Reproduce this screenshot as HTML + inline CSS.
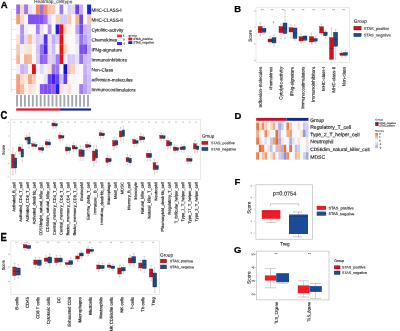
<!DOCTYPE html>
<html><head><meta charset="utf-8"><style>
html,body{margin:0;padding:0;background:#fff;overflow:hidden;}
svg{display:block;will-change:transform;filter:blur(0.3px);}
text{font-family:"Liberation Sans",sans-serif;}
</style></head><body>
<svg width="400" height="331" viewBox="0 0 400 331">
<rect x="0" y="0" width="400" height="331" fill="#ffffff"/>
<text transform="translate(0.76,8.0) scale(1,1.04)" x="0" y="0" font-size="9.5" font-weight="bold" fill="#000" stroke="#000" stroke-width="0.25">A</text>
<text x="34.00" y="3.00" font-size="4.800" fill="#555" stroke="#555" stroke-width="0.15" transform="rotate(0.25 34.00 3.00)" >Heatmap_celltype</text>
<rect x="16.20" y="4.50" width="3.99" height="10.00" fill="#9a6ae8" />
<rect x="20.14" y="4.50" width="3.99" height="10.00" fill="#fbd7c8" />
<rect x="24.08" y="4.50" width="3.99" height="10.00" fill="#a07ae8" />
<rect x="28.02" y="4.50" width="3.99" height="10.00" fill="#e8e0f8" />
<rect x="31.96" y="4.50" width="3.99" height="10.00" fill="#f5f0fa" />
<rect x="35.90" y="4.50" width="3.99" height="10.00" fill="#f58a5a" />
<rect x="39.84" y="4.50" width="3.99" height="10.00" fill="#9a70f0" />
<rect x="43.78" y="4.50" width="3.99" height="10.00" fill="#f59060" />
<rect x="47.72" y="4.50" width="3.99" height="10.00" fill="#fac0b0" />
<rect x="51.66" y="4.50" width="3.99" height="10.00" fill="#f8c8b0" />
<rect x="55.60" y="4.50" width="3.99" height="10.00" fill="#ffffff" />
<rect x="59.54" y="4.50" width="3.99" height="10.00" fill="#9a7ae8" />
<rect x="63.48" y="4.50" width="3.99" height="10.00" fill="#fbf8fc" />
<rect x="67.42" y="4.50" width="3.99" height="10.00" fill="#d8d0f8" />
<rect x="71.36" y="4.50" width="3.99" height="10.00" fill="#e0d8f8" />
<rect x="75.30" y="4.50" width="3.99" height="10.00" fill="#6a40e8" />
<rect x="79.24" y="4.50" width="3.99" height="10.00" fill="#c8b0f8" />
<rect x="83.18" y="4.50" width="3.99" height="10.00" fill="#fbf8fc" />
<rect x="87.12" y="4.50" width="3.99" height="10.00" fill="#2020e0" />
<rect x="16.20" y="14.45" width="3.99" height="10.00" fill="#f0a070" />
<rect x="20.14" y="14.45" width="3.99" height="10.00" fill="#fbd7c8" />
<rect x="24.08" y="14.45" width="3.99" height="10.00" fill="#f8f4f8" />
<rect x="28.02" y="14.45" width="3.99" height="10.00" fill="#8050f0" />
<rect x="31.96" y="14.45" width="3.99" height="10.00" fill="#8050f0" />
<rect x="35.90" y="14.45" width="3.99" height="10.00" fill="#8050f0" />
<rect x="39.84" y="14.45" width="3.99" height="10.00" fill="#8050f0" />
<rect x="43.78" y="14.45" width="3.99" height="10.00" fill="#a070f0" />
<rect x="47.72" y="14.45" width="3.99" height="10.00" fill="#e0d8f8" />
<rect x="51.66" y="14.45" width="3.99" height="10.00" fill="#fbf8fc" />
<rect x="55.60" y="14.45" width="3.99" height="10.00" fill="#f8d0b8" />
<rect x="59.54" y="14.45" width="3.99" height="10.00" fill="#d8c8f8" />
<rect x="63.48" y="14.45" width="3.99" height="10.00" fill="#d8c8f8" />
<rect x="67.42" y="14.45" width="3.99" height="10.00" fill="#f8c8b0" />
<rect x="71.36" y="14.45" width="3.99" height="10.00" fill="#fbf8fc" />
<rect x="75.30" y="14.45" width="3.99" height="10.00" fill="#f4b890" />
<rect x="79.24" y="14.45" width="3.99" height="10.00" fill="#7048e8" />
<rect x="83.18" y="14.45" width="3.99" height="10.00" fill="#fbf8fc" />
<rect x="87.12" y="14.45" width="3.99" height="10.00" fill="#f8c8b0" />
<rect x="16.20" y="24.40" width="3.99" height="10.00" fill="#fbf8fc" />
<rect x="20.14" y="24.40" width="3.99" height="10.00" fill="#b090f0" />
<rect x="24.08" y="24.40" width="3.99" height="10.00" fill="#f0ecfa" />
<rect x="28.02" y="24.40" width="3.99" height="10.00" fill="#fbf8fc" />
<rect x="31.96" y="24.40" width="3.99" height="10.00" fill="#fbf8fc" />
<rect x="35.90" y="24.40" width="3.99" height="10.00" fill="#a080f0" />
<rect x="39.84" y="24.40" width="3.99" height="10.00" fill="#e8e0f8" />
<rect x="43.78" y="24.40" width="3.99" height="10.00" fill="#fbf8fc" />
<rect x="47.72" y="24.40" width="3.99" height="10.00" fill="#b090f0" />
<rect x="51.66" y="24.40" width="3.99" height="10.00" fill="#fbf8fc" />
<rect x="55.60" y="24.40" width="3.99" height="10.00" fill="#2020d8" />
<rect x="59.54" y="24.40" width="3.99" height="10.00" fill="#f01010" />
<rect x="63.48" y="24.40" width="3.99" height="10.00" fill="#f8d8c8" />
<rect x="67.42" y="24.40" width="3.99" height="10.00" fill="#fcf0ec" />
<rect x="71.36" y="24.40" width="3.99" height="10.00" fill="#fbf8fc" />
<rect x="75.30" y="24.40" width="3.99" height="10.00" fill="#c0a0f8" />
<rect x="79.24" y="24.40" width="3.99" height="10.00" fill="#7050e8" />
<rect x="83.18" y="24.40" width="3.99" height="10.00" fill="#c8b8f8" />
<rect x="87.12" y="24.40" width="3.99" height="10.00" fill="#d0c0f8" />
<rect x="16.20" y="34.35" width="3.99" height="10.00" fill="#fce0d0" />
<rect x="20.14" y="34.35" width="3.99" height="10.00" fill="#b090f0" />
<rect x="24.08" y="34.35" width="3.99" height="10.00" fill="#e8d8f8" />
<rect x="28.02" y="34.35" width="3.99" height="10.00" fill="#f8c0a0" />
<rect x="31.96" y="34.35" width="3.99" height="10.00" fill="#f0e8fa" />
<rect x="35.90" y="34.35" width="3.99" height="10.00" fill="#d8c8f8" />
<rect x="39.84" y="34.35" width="3.99" height="10.00" fill="#e0d0f8" />
<rect x="43.78" y="34.35" width="3.99" height="10.00" fill="#5030e8" />
<rect x="47.72" y="34.35" width="3.99" height="10.00" fill="#ece4fa" />
<rect x="51.66" y="34.35" width="3.99" height="10.00" fill="#c8a8f8" />
<rect x="55.60" y="34.35" width="3.99" height="10.00" fill="#d8c8f8" />
<rect x="59.54" y="34.35" width="3.99" height="10.00" fill="#f01010" />
<rect x="63.48" y="34.35" width="3.99" height="10.00" fill="#fcf4f0" />
<rect x="67.42" y="34.35" width="3.99" height="10.00" fill="#fbf8fc" />
<rect x="71.36" y="34.35" width="3.99" height="10.00" fill="#fbf8fc" />
<rect x="75.30" y="34.35" width="3.99" height="10.00" fill="#e0d8f8" />
<rect x="79.24" y="34.35" width="3.99" height="10.00" fill="#9878f0" />
<rect x="83.18" y="34.35" width="3.99" height="10.00" fill="#b8a0f8" />
<rect x="87.12" y="34.35" width="3.99" height="10.00" fill="#d0c0f8" />
<rect x="16.20" y="44.30" width="3.99" height="10.00" fill="#f8c8b0" />
<rect x="20.14" y="44.30" width="3.99" height="10.00" fill="#f0f0fa" />
<rect x="24.08" y="44.30" width="3.99" height="10.00" fill="#fce8d8" />
<rect x="28.02" y="44.30" width="3.99" height="10.00" fill="#fce0d0" />
<rect x="31.96" y="44.30" width="3.99" height="10.00" fill="#fbf8fc" />
<rect x="35.90" y="44.30" width="3.99" height="10.00" fill="#d0c0f8" />
<rect x="39.84" y="44.30" width="3.99" height="10.00" fill="#9870f0" />
<rect x="43.78" y="44.30" width="3.99" height="10.00" fill="#4828e8" />
<rect x="47.72" y="44.30" width="3.99" height="10.00" fill="#e8e0fa" />
<rect x="51.66" y="44.30" width="3.99" height="10.00" fill="#d0b8f8" />
<rect x="55.60" y="44.30" width="3.99" height="10.00" fill="#fbf8fc" />
<rect x="59.54" y="44.30" width="3.99" height="10.00" fill="#f01010" />
<rect x="63.48" y="44.30" width="3.99" height="10.00" fill="#f8d8c0" />
<rect x="67.42" y="44.30" width="3.99" height="10.00" fill="#fbf8fc" />
<rect x="71.36" y="44.30" width="3.99" height="10.00" fill="#fbf8fc" />
<rect x="75.30" y="44.30" width="3.99" height="10.00" fill="#f0ecfa" />
<rect x="79.24" y="44.30" width="3.99" height="10.00" fill="#8050f0" />
<rect x="83.18" y="44.30" width="3.99" height="10.00" fill="#7850f0" />
<rect x="87.12" y="44.30" width="3.99" height="10.00" fill="#c8b0f8" />
<rect x="16.20" y="54.25" width="3.99" height="10.00" fill="#f8b898" />
<rect x="20.14" y="54.25" width="3.99" height="10.00" fill="#fbf8fc" />
<rect x="24.08" y="54.25" width="3.99" height="10.00" fill="#f8b090" />
<rect x="28.02" y="54.25" width="3.99" height="10.00" fill="#f8b898" />
<rect x="31.96" y="54.25" width="3.99" height="10.00" fill="#fbf8fc" />
<rect x="35.90" y="54.25" width="3.99" height="10.00" fill="#d8c8f8" />
<rect x="39.84" y="54.25" width="3.99" height="10.00" fill="#9060f0" />
<rect x="43.78" y="54.25" width="3.99" height="10.00" fill="#9868f0" />
<rect x="47.72" y="54.25" width="3.99" height="10.00" fill="#e0d0f8" />
<rect x="51.66" y="54.25" width="3.99" height="10.00" fill="#d8c8f8" />
<rect x="55.60" y="54.25" width="3.99" height="10.00" fill="#a080f0" />
<rect x="59.54" y="54.25" width="3.99" height="10.00" fill="#f01010" />
<rect x="63.48" y="54.25" width="3.99" height="10.00" fill="#fbf8fc" />
<rect x="67.42" y="54.25" width="3.99" height="10.00" fill="#d8c8f8" />
<rect x="71.36" y="54.25" width="3.99" height="10.00" fill="#d8c8f8" />
<rect x="75.30" y="54.25" width="3.99" height="10.00" fill="#e8e0f8" />
<rect x="79.24" y="54.25" width="3.99" height="10.00" fill="#9870f0" />
<rect x="83.18" y="54.25" width="3.99" height="10.00" fill="#c8b8f8" />
<rect x="87.12" y="54.25" width="3.99" height="10.00" fill="#d0c0f8" />
<rect x="16.20" y="64.20" width="3.99" height="10.00" fill="#f0eefa" />
<rect x="20.14" y="64.20" width="3.99" height="10.00" fill="#c8b0f8" />
<rect x="24.08" y="64.20" width="3.99" height="10.00" fill="#d0c0f8" />
<rect x="28.02" y="64.20" width="3.99" height="10.00" fill="#f8f4fa" />
<rect x="31.96" y="64.20" width="3.99" height="10.00" fill="#e81010" />
<rect x="35.90" y="64.20" width="3.99" height="10.00" fill="#fbf8fc" />
<rect x="39.84" y="64.20" width="3.99" height="10.00" fill="#e0d8f8" />
<rect x="43.78" y="64.20" width="3.99" height="10.00" fill="#f4f0fa" />
<rect x="47.72" y="64.20" width="3.99" height="10.00" fill="#fce0d0" />
<rect x="51.66" y="64.20" width="3.99" height="10.00" fill="#9870f0" />
<rect x="55.60" y="64.20" width="3.99" height="10.00" fill="#9a78f0" />
<rect x="59.54" y="64.20" width="3.99" height="10.00" fill="#fbf8fc" />
<rect x="63.48" y="64.20" width="3.99" height="10.00" fill="#1010d8" />
<rect x="67.42" y="64.20" width="3.99" height="10.00" fill="#f8c0a0" />
<rect x="71.36" y="64.20" width="3.99" height="10.00" fill="#f8d0c0" />
<rect x="75.30" y="64.20" width="3.99" height="10.00" fill="#f4f0fa" />
<rect x="79.24" y="64.20" width="3.99" height="10.00" fill="#fbf8fc" />
<rect x="83.18" y="64.20" width="3.99" height="10.00" fill="#c8b0f8" />
<rect x="87.12" y="64.20" width="3.99" height="10.00" fill="#d8c8f8" />
<rect x="16.20" y="74.15" width="3.99" height="10.00" fill="#f4a080" />
<rect x="20.14" y="74.15" width="3.99" height="10.00" fill="#fcd8c8" />
<rect x="24.08" y="74.15" width="3.99" height="10.00" fill="#fce8e0" />
<rect x="28.02" y="74.15" width="3.99" height="10.00" fill="#f4a888" />
<rect x="31.96" y="74.15" width="3.99" height="10.00" fill="#f8d0b8" />
<rect x="35.90" y="74.15" width="3.99" height="10.00" fill="#fbf8fc" />
<rect x="39.84" y="74.15" width="3.99" height="10.00" fill="#fbf8fc" />
<rect x="43.78" y="74.15" width="3.99" height="10.00" fill="#e8e0f8" />
<rect x="47.72" y="74.15" width="3.99" height="10.00" fill="#6840f0" />
<rect x="51.66" y="74.15" width="3.99" height="10.00" fill="#4020e8" />
<rect x="55.60" y="74.15" width="3.99" height="10.00" fill="#6848f0" />
<rect x="59.54" y="74.15" width="3.99" height="10.00" fill="#d0c0f8" />
<rect x="63.48" y="74.15" width="3.99" height="10.00" fill="#6040e8" />
<rect x="67.42" y="74.15" width="3.99" height="10.00" fill="#fbf8fc" />
<rect x="71.36" y="74.15" width="3.99" height="10.00" fill="#fcf4f0" />
<rect x="75.30" y="74.15" width="3.99" height="10.00" fill="#fbf8fc" />
<rect x="79.24" y="74.15" width="3.99" height="10.00" fill="#fbf8fc" />
<rect x="83.18" y="74.15" width="3.99" height="10.00" fill="#c0a8f8" />
<rect x="87.12" y="74.15" width="3.99" height="10.00" fill="#d0c0f8" />
<rect x="16.20" y="84.10" width="3.99" height="10.00" fill="#f49878" />
<rect x="20.14" y="84.10" width="3.99" height="10.00" fill="#f8b8a0" />
<rect x="24.08" y="84.10" width="3.99" height="10.00" fill="#fcf0e8" />
<rect x="28.02" y="84.10" width="3.99" height="10.00" fill="#fce0d0" />
<rect x="31.96" y="84.10" width="3.99" height="10.00" fill="#fce8e0" />
<rect x="35.90" y="84.10" width="3.99" height="10.00" fill="#fbf8fc" />
<rect x="39.84" y="84.10" width="3.99" height="10.00" fill="#8858f0" />
<rect x="43.78" y="84.10" width="3.99" height="10.00" fill="#8050f0" />
<rect x="47.72" y="84.10" width="3.99" height="10.00" fill="#8050f0" />
<rect x="51.66" y="84.10" width="3.99" height="10.00" fill="#9060f0" />
<rect x="55.60" y="84.10" width="3.99" height="10.00" fill="#2020e0" />
<rect x="59.54" y="84.10" width="3.99" height="10.00" fill="#fce0d0" />
<rect x="63.48" y="84.10" width="3.99" height="10.00" fill="#f4f0fa" />
<rect x="67.42" y="84.10" width="3.99" height="10.00" fill="#fce0d0" />
<rect x="71.36" y="84.10" width="3.99" height="10.00" fill="#fbf8fc" />
<rect x="75.30" y="84.10" width="3.99" height="10.00" fill="#fbf8fc" />
<rect x="79.24" y="84.10" width="3.99" height="10.00" fill="#a080f0" />
<rect x="83.18" y="84.10" width="3.99" height="10.00" fill="#b8a0f8" />
<rect x="87.12" y="84.10" width="3.99" height="10.00" fill="#d0c0f8" />
<line x1="11.30" y1="9.50" x2="11.30" y2="92.00" stroke="#c4c4c4" stroke-width="0.5" />
<line x1="11.30" y1="9.50" x2="16.20" y2="9.50" stroke="#d0d0d0" stroke-width="0.4" />
<line x1="11.30" y1="19.50" x2="16.20" y2="19.50" stroke="#d0d0d0" stroke-width="0.4" />
<line x1="11.30" y1="29.50" x2="16.20" y2="29.50" stroke="#d0d0d0" stroke-width="0.4" />
<line x1="11.30" y1="39.50" x2="16.20" y2="39.50" stroke="#d0d0d0" stroke-width="0.4" />
<line x1="11.30" y1="49.50" x2="16.20" y2="49.50" stroke="#d0d0d0" stroke-width="0.4" />
<line x1="11.30" y1="59.50" x2="16.20" y2="59.50" stroke="#d0d0d0" stroke-width="0.4" />
<line x1="11.30" y1="69.50" x2="16.20" y2="69.50" stroke="#d0d0d0" stroke-width="0.4" />
<line x1="11.30" y1="79.50" x2="16.20" y2="79.50" stroke="#d0d0d0" stroke-width="0.4" />
<line x1="11.30" y1="89.50" x2="16.20" y2="89.50" stroke="#d0d0d0" stroke-width="0.4" />
<text x="91.40" y="11.68" font-size="4.650" fill="#2a2a2a" stroke="#2a2a2a" stroke-width="0.15" transform="rotate(0.25 91.40 11.68)" >MHC-CLASS-I</text>
<text x="91.40" y="21.62" font-size="4.650" fill="#2a2a2a" stroke="#2a2a2a" stroke-width="0.15" transform="rotate(0.25 91.40 21.62)" >MHC-CLASS-II</text>
<text x="91.40" y="31.57" font-size="4.650" fill="#2a2a2a" stroke="#2a2a2a" stroke-width="0.15" transform="rotate(0.25 91.40 31.57)" >Cytolitic-activity</text>
<text x="91.40" y="41.52" font-size="4.650" fill="#2a2a2a" stroke="#2a2a2a" stroke-width="0.15" transform="rotate(0.25 91.40 41.52)" >Chemokines</text>
<text x="91.40" y="51.48" font-size="4.650" fill="#2a2a2a" stroke="#2a2a2a" stroke-width="0.15" transform="rotate(0.25 91.40 51.48)" >IFNg-signature</text>
<text x="91.40" y="61.42" font-size="4.650" fill="#2a2a2a" stroke="#2a2a2a" stroke-width="0.15" transform="rotate(0.25 91.40 61.42)" >Immunoinhibitors</text>
<text x="91.40" y="71.38" font-size="4.650" fill="#2a2a2a" stroke="#2a2a2a" stroke-width="0.15" transform="rotate(0.25 91.40 71.38)" >Non-Class</text>
<text x="91.40" y="81.33" font-size="4.650" fill="#2a2a2a" stroke="#2a2a2a" stroke-width="0.15" transform="rotate(0.25 91.40 81.33)" >adhesion-molecules</text>
<text x="91.40" y="91.27" font-size="4.650" fill="#2a2a2a" stroke="#2a2a2a" stroke-width="0.15" transform="rotate(0.25 91.40 91.27)" >Immunocostimulators</text>
<rect x="16.10" y="95.00" width="1.90" height="11.60" fill="#a3a7b0" />
<rect x="20.04" y="95.00" width="1.90" height="11.60" fill="#a3a7b0" />
<rect x="23.98" y="95.00" width="1.90" height="11.60" fill="#a3a7b0" />
<rect x="27.92" y="95.00" width="1.90" height="11.60" fill="#a3a7b0" />
<rect x="31.86" y="95.00" width="1.90" height="11.60" fill="#a3a7b0" />
<rect x="35.80" y="95.00" width="1.90" height="11.60" fill="#a3a7b0" />
<rect x="39.74" y="95.00" width="1.90" height="11.60" fill="#a3a7b0" />
<rect x="43.68" y="95.00" width="1.90" height="11.60" fill="#a3a7b0" />
<rect x="47.62" y="95.00" width="1.90" height="11.60" fill="#a3a7b0" />
<rect x="51.56" y="95.00" width="1.90" height="11.60" fill="#a3a7b0" />
<rect x="55.50" y="95.00" width="1.90" height="11.60" fill="#a3a7b0" />
<rect x="59.44" y="95.00" width="1.90" height="11.60" fill="#a3a7b0" />
<rect x="63.38" y="95.00" width="1.90" height="11.60" fill="#a3a7b0" />
<rect x="67.32" y="95.00" width="1.90" height="11.60" fill="#a3a7b0" />
<rect x="71.26" y="95.00" width="1.90" height="11.60" fill="#a3a7b0" />
<rect x="75.20" y="95.00" width="1.90" height="11.60" fill="#a3a7b0" />
<rect x="79.14" y="95.00" width="1.90" height="11.60" fill="#a3a7b0" />
<rect x="83.08" y="95.00" width="1.90" height="11.60" fill="#a3a7b0" />
<rect x="87.02" y="95.00" width="1.90" height="11.60" fill="#a3a7b0" />
<rect x="16.20" y="108.40" width="43.34" height="2.20" fill="#e8102a" />
<rect x="59.54" y="108.40" width="31.52" height="2.20" fill="#1a2a90" />
<rect x="117.00" y="34.60" width="5.00" height="2.80" fill="#f03030" />
<rect x="117.00" y="37.40" width="5.00" height="4.60" fill="#f4f0fa" />
<rect x="117.00" y="42.00" width="5.00" height="3.00" fill="#3030e8" />
<text x="123.00" y="36.80" font-size="2.800" fill="#444" stroke="#444" stroke-width="0.15" transform="rotate(0.25 123.00 36.80)" >1</text>
<text x="123.00" y="40.60" font-size="2.800" fill="#444" stroke="#444" stroke-width="0.15" transform="rotate(0.25 123.00 40.60)" >0</text>
<text x="122.60" y="44.60" font-size="2.800" fill="#444" stroke="#444" stroke-width="0.15" transform="rotate(0.25 122.60 44.60)" >-1</text>
<text x="128.50" y="36.60" font-size="3.000" fill="#222" transform="rotate(0.25 128.50 36.60)" font-weight="bold">group</text>
<rect x="128.30" y="37.60" width="4.00" height="2.80" fill="#e8102a" />
<rect x="128.30" y="41.20" width="4.00" height="2.80" fill="#1a2a90" />
<text x="133.20" y="39.90" font-size="3.000" fill="#444" stroke="#444" stroke-width="0.15" transform="rotate(0.25 133.20 39.90)" >STAS_positive</text>
<text x="133.20" y="43.50" font-size="3.000" fill="#444" stroke="#444" stroke-width="0.15" transform="rotate(0.25 133.20 43.50)" >STAS_negative</text>
<text transform="translate(234.2,11.9) scale(1,1.0)" x="0" y="0" font-size="9.5" font-weight="bold" fill="#000" stroke="#000" stroke-width="0.25">B</text>
<rect x="256" y="7.5" width="93.7" height="54.9" fill="none" stroke="#d4d4d4" stroke-width="0.5"/>
<rect x="254.20" y="10.30" width="1.40" height="1.20" fill="#c0c0c0" />
<rect x="254.20" y="26.60" width="1.40" height="1.20" fill="#c0c0c0" />
<rect x="254.20" y="43.40" width="1.40" height="1.20" fill="#c0c0c0" />
<rect x="254.20" y="59.90" width="1.40" height="1.20" fill="#c0c0c0" />
<text transform="translate(250.20,35.80) rotate(-89.8)" font-size="4.500" fill="#333" stroke="#333" stroke-width="0.15" text-anchor="middle" dominant-baseline="central">Score</text>
<line x1="260.25" y1="22.80" x2="260.25" y2="26.40" stroke="#a8a0a0" stroke-width="0.4" />
<line x1="260.25" y1="32.70" x2="260.25" y2="35.80" stroke="#a8a0a0" stroke-width="0.4" />
<line x1="259.23" y1="22.80" x2="261.27" y2="22.80" stroke="#a8a0a0" stroke-width="0.4" />
<line x1="259.23" y1="35.80" x2="261.27" y2="35.80" stroke="#a8a0a0" stroke-width="0.4" />
<rect x="258.20" y="26.40" width="4.10" height="6.30" fill="#d0141e" stroke="#7a1018" stroke-width="0.35"/>
<line x1="258.20" y1="29.55" x2="262.30" y2="29.55" stroke="#000000aa" stroke-width="0.35" />
<line x1="264.15" y1="26.00" x2="264.15" y2="28.20" stroke="#a0a4a8" stroke-width="0.4" />
<line x1="264.15" y1="32.20" x2="264.15" y2="34.00" stroke="#a0a4a8" stroke-width="0.4" />
<line x1="263.22" y1="26.00" x2="265.07" y2="26.00" stroke="#a0a4a8" stroke-width="0.4" />
<line x1="263.22" y1="34.00" x2="265.07" y2="34.00" stroke="#a0a4a8" stroke-width="0.4" />
<rect x="262.30" y="28.20" width="3.70" height="4.00" fill="#1d4f8c" stroke="#0e2c52" stroke-width="0.35"/>
<line x1="262.30" y1="30.20" x2="266.00" y2="30.20" stroke="#000000aa" stroke-width="0.35" />
<rect x="261.05" y="9.15" width="1.05" height="1.00" fill="#9a9a9a" />
<rect x="262.50" y="9.15" width="1.05" height="1.00" fill="#9a9a9a" />
<line x1="270.00" y1="36.00" x2="270.00" y2="39.00" stroke="#a8a0a0" stroke-width="0.4" />
<line x1="270.00" y1="42.00" x2="270.00" y2="44.00" stroke="#a8a0a0" stroke-width="0.4" />
<line x1="269.00" y1="36.00" x2="271.00" y2="36.00" stroke="#a8a0a0" stroke-width="0.4" />
<line x1="269.00" y1="44.00" x2="271.00" y2="44.00" stroke="#a8a0a0" stroke-width="0.4" />
<rect x="268.00" y="39.00" width="4.00" height="3.00" fill="#d0141e" stroke="#7a1018" stroke-width="0.35"/>
<line x1="268.00" y1="40.50" x2="272.00" y2="40.50" stroke="#000000aa" stroke-width="0.35" />
<line x1="274.00" y1="35.00" x2="274.00" y2="37.60" stroke="#a0a4a8" stroke-width="0.4" />
<line x1="274.00" y1="43.00" x2="274.00" y2="46.00" stroke="#a0a4a8" stroke-width="0.4" />
<line x1="273.00" y1="35.00" x2="275.00" y2="35.00" stroke="#a0a4a8" stroke-width="0.4" />
<line x1="273.00" y1="46.00" x2="275.00" y2="46.00" stroke="#a0a4a8" stroke-width="0.4" />
<rect x="272.00" y="37.60" width="4.00" height="5.40" fill="#1d4f8c" stroke="#0e2c52" stroke-width="0.35"/>
<line x1="272.00" y1="40.30" x2="276.00" y2="40.30" stroke="#000000aa" stroke-width="0.35" />
<rect x="270.75" y="9.15" width="1.05" height="1.00" fill="#9a9a9a" />
<rect x="272.20" y="9.15" width="1.05" height="1.00" fill="#9a9a9a" />
<line x1="281.00" y1="24.00" x2="281.00" y2="26.40" stroke="#a8a0a0" stroke-width="0.4" />
<line x1="281.00" y1="32.70" x2="281.00" y2="39.00" stroke="#a8a0a0" stroke-width="0.4" />
<line x1="280.00" y1="24.00" x2="282.00" y2="24.00" stroke="#a8a0a0" stroke-width="0.4" />
<line x1="280.00" y1="39.00" x2="282.00" y2="39.00" stroke="#a8a0a0" stroke-width="0.4" />
<rect x="279.00" y="26.40" width="4.00" height="6.30" fill="#d0141e" stroke="#7a1018" stroke-width="0.35"/>
<line x1="279.00" y1="29.55" x2="283.00" y2="29.55" stroke="#000000aa" stroke-width="0.35" />
<line x1="285.00" y1="10.40" x2="285.00" y2="23.00" stroke="#a0a4a8" stroke-width="0.4" />
<line x1="285.00" y1="33.60" x2="285.00" y2="39.00" stroke="#a0a4a8" stroke-width="0.4" />
<line x1="284.00" y1="10.40" x2="286.00" y2="10.40" stroke="#a0a4a8" stroke-width="0.4" />
<line x1="284.00" y1="39.00" x2="286.00" y2="39.00" stroke="#a0a4a8" stroke-width="0.4" />
<rect x="283.00" y="23.00" width="4.00" height="10.60" fill="#1d4f8c" stroke="#0e2c52" stroke-width="0.35"/>
<line x1="283.00" y1="28.30" x2="287.00" y2="28.30" stroke="#000000aa" stroke-width="0.35" />
<rect x="281.75" y="9.15" width="1.05" height="1.00" fill="#9a9a9a" />
<rect x="283.20" y="9.15" width="1.05" height="1.00" fill="#9a9a9a" />
<line x1="291.00" y1="25.00" x2="291.00" y2="27.60" stroke="#a8a0a0" stroke-width="0.4" />
<line x1="291.00" y1="32.00" x2="291.00" y2="38.00" stroke="#a8a0a0" stroke-width="0.4" />
<line x1="290.00" y1="25.00" x2="292.00" y2="25.00" stroke="#a8a0a0" stroke-width="0.4" />
<line x1="290.00" y1="38.00" x2="292.00" y2="38.00" stroke="#a8a0a0" stroke-width="0.4" />
<rect x="289.00" y="27.60" width="4.00" height="4.40" fill="#d0141e" stroke="#7a1018" stroke-width="0.35"/>
<line x1="289.00" y1="29.80" x2="293.00" y2="29.80" stroke="#000000aa" stroke-width="0.35" />
<line x1="295.00" y1="25.00" x2="295.00" y2="28.00" stroke="#a0a4a8" stroke-width="0.4" />
<line x1="295.00" y1="38.50" x2="295.00" y2="40.00" stroke="#a0a4a8" stroke-width="0.4" />
<line x1="294.00" y1="25.00" x2="296.00" y2="25.00" stroke="#a0a4a8" stroke-width="0.4" />
<line x1="294.00" y1="40.00" x2="296.00" y2="40.00" stroke="#a0a4a8" stroke-width="0.4" />
<rect x="293.00" y="28.00" width="4.00" height="10.50" fill="#1d4f8c" stroke="#0e2c52" stroke-width="0.35"/>
<line x1="293.00" y1="33.25" x2="297.00" y2="33.25" stroke="#000000aa" stroke-width="0.35" />
<rect x="291.75" y="9.15" width="1.05" height="1.00" fill="#9a9a9a" />
<rect x="293.20" y="9.15" width="1.05" height="1.00" fill="#9a9a9a" />
<line x1="301.00" y1="34.00" x2="301.00" y2="36.70" stroke="#a8a0a0" stroke-width="0.4" />
<line x1="301.00" y1="41.00" x2="301.00" y2="43.00" stroke="#a8a0a0" stroke-width="0.4" />
<line x1="300.00" y1="34.00" x2="302.00" y2="34.00" stroke="#a8a0a0" stroke-width="0.4" />
<line x1="300.00" y1="43.00" x2="302.00" y2="43.00" stroke="#a8a0a0" stroke-width="0.4" />
<rect x="299.00" y="36.70" width="4.00" height="4.30" fill="#d0141e" stroke="#7a1018" stroke-width="0.35"/>
<line x1="299.00" y1="38.85" x2="303.00" y2="38.85" stroke="#000000aa" stroke-width="0.35" />
<line x1="305.00" y1="35.00" x2="305.00" y2="36.00" stroke="#a0a4a8" stroke-width="0.4" />
<line x1="305.00" y1="40.30" x2="305.00" y2="42.00" stroke="#a0a4a8" stroke-width="0.4" />
<line x1="304.00" y1="35.00" x2="306.00" y2="35.00" stroke="#a0a4a8" stroke-width="0.4" />
<line x1="304.00" y1="42.00" x2="306.00" y2="42.00" stroke="#a0a4a8" stroke-width="0.4" />
<rect x="303.00" y="36.00" width="4.00" height="4.30" fill="#1d4f8c" stroke="#0e2c52" stroke-width="0.35"/>
<line x1="303.00" y1="38.15" x2="307.00" y2="38.15" stroke="#000000aa" stroke-width="0.35" />
<rect x="301.75" y="9.15" width="1.05" height="1.00" fill="#9a9a9a" />
<rect x="303.20" y="9.15" width="1.05" height="1.00" fill="#9a9a9a" />
<line x1="311.50" y1="33.00" x2="311.50" y2="36.70" stroke="#a8a0a0" stroke-width="0.4" />
<line x1="311.50" y1="42.00" x2="311.50" y2="44.00" stroke="#a8a0a0" stroke-width="0.4" />
<line x1="310.45" y1="33.00" x2="312.55" y2="33.00" stroke="#a8a0a0" stroke-width="0.4" />
<line x1="310.45" y1="44.00" x2="312.55" y2="44.00" stroke="#a8a0a0" stroke-width="0.4" />
<rect x="309.40" y="36.70" width="4.20" height="5.30" fill="#d0141e" stroke="#7a1018" stroke-width="0.35"/>
<line x1="309.40" y1="39.35" x2="313.60" y2="39.35" stroke="#000000aa" stroke-width="0.35" />
<line x1="315.40" y1="36.00" x2="315.40" y2="38.50" stroke="#a0a4a8" stroke-width="0.4" />
<line x1="315.40" y1="41.20" x2="315.40" y2="43.00" stroke="#a0a4a8" stroke-width="0.4" />
<line x1="314.50" y1="36.00" x2="316.30" y2="36.00" stroke="#a0a4a8" stroke-width="0.4" />
<line x1="314.50" y1="43.00" x2="316.30" y2="43.00" stroke="#a0a4a8" stroke-width="0.4" />
<rect x="313.60" y="38.50" width="3.60" height="2.70" fill="#1d4f8c" stroke="#0e2c52" stroke-width="0.35"/>
<line x1="313.60" y1="39.85" x2="317.20" y2="39.85" stroke="#000000aa" stroke-width="0.35" />
<rect x="312.35" y="9.15" width="1.05" height="1.00" fill="#9a9a9a" />
<rect x="313.80" y="9.15" width="1.05" height="1.00" fill="#9a9a9a" />
<line x1="321.55" y1="24.00" x2="321.55" y2="26.70" stroke="#a8a0a0" stroke-width="0.4" />
<line x1="321.55" y1="33.00" x2="321.55" y2="35.00" stroke="#a8a0a0" stroke-width="0.4" />
<line x1="320.58" y1="24.00" x2="322.52" y2="24.00" stroke="#a8a0a0" stroke-width="0.4" />
<line x1="320.58" y1="35.00" x2="322.52" y2="35.00" stroke="#a8a0a0" stroke-width="0.4" />
<rect x="319.60" y="26.70" width="3.90" height="6.30" fill="#d0141e" stroke="#7a1018" stroke-width="0.35"/>
<line x1="319.60" y1="29.85" x2="323.50" y2="29.85" stroke="#000000aa" stroke-width="0.35" />
<line x1="325.35" y1="30.00" x2="325.35" y2="32.00" stroke="#a0a4a8" stroke-width="0.4" />
<line x1="325.35" y1="35.80" x2="325.35" y2="38.00" stroke="#a0a4a8" stroke-width="0.4" />
<line x1="324.43" y1="30.00" x2="326.28" y2="30.00" stroke="#a0a4a8" stroke-width="0.4" />
<line x1="324.43" y1="38.00" x2="326.28" y2="38.00" stroke="#a0a4a8" stroke-width="0.4" />
<rect x="323.50" y="32.00" width="3.70" height="3.80" fill="#1d4f8c" stroke="#0e2c52" stroke-width="0.35"/>
<line x1="323.50" y1="33.90" x2="327.20" y2="33.90" stroke="#000000aa" stroke-width="0.35" />
<rect x="322.25" y="9.15" width="1.05" height="1.00" fill="#9a9a9a" />
<rect x="323.70" y="9.15" width="1.05" height="1.00" fill="#9a9a9a" />
<line x1="331.50" y1="28.20" x2="331.50" y2="37.60" stroke="#a8a0a0" stroke-width="0.4" />
<line x1="331.50" y1="59.30" x2="331.50" y2="59.30" stroke="#a8a0a0" stroke-width="0.4" />
<line x1="330.50" y1="28.20" x2="332.50" y2="28.20" stroke="#a8a0a0" stroke-width="0.4" />
<line x1="330.50" y1="59.30" x2="332.50" y2="59.30" stroke="#a8a0a0" stroke-width="0.4" />
<rect x="329.50" y="37.60" width="4.00" height="21.70" fill="#d0141e" stroke="#7a1018" stroke-width="0.35"/>
<line x1="329.50" y1="48.45" x2="333.50" y2="48.45" stroke="#000000aa" stroke-width="0.35" />
<line x1="335.60" y1="29.50" x2="335.60" y2="32.20" stroke="#a0a4a8" stroke-width="0.4" />
<line x1="335.60" y1="46.30" x2="335.60" y2="59.30" stroke="#a0a4a8" stroke-width="0.4" />
<line x1="334.55" y1="29.50" x2="336.65" y2="29.50" stroke="#a0a4a8" stroke-width="0.4" />
<line x1="334.55" y1="59.30" x2="336.65" y2="59.30" stroke="#a0a4a8" stroke-width="0.4" />
<rect x="333.50" y="32.20" width="4.20" height="14.10" fill="#1d4f8c" stroke="#0e2c52" stroke-width="0.35"/>
<line x1="333.50" y1="39.25" x2="337.70" y2="39.25" stroke="#000000aa" stroke-width="0.35" />
<rect x="332.25" y="9.15" width="1.05" height="1.00" fill="#9a9a9a" />
<rect x="333.70" y="9.15" width="1.05" height="1.00" fill="#9a9a9a" />
<line x1="341.70" y1="51.00" x2="341.70" y2="53.00" stroke="#a8a0a0" stroke-width="0.4" />
<line x1="341.70" y1="55.40" x2="341.70" y2="57.00" stroke="#a8a0a0" stroke-width="0.4" />
<line x1="340.80" y1="51.00" x2="342.60" y2="51.00" stroke="#a8a0a0" stroke-width="0.4" />
<line x1="340.80" y1="57.00" x2="342.60" y2="57.00" stroke="#a8a0a0" stroke-width="0.4" />
<rect x="339.90" y="53.00" width="3.60" height="2.40" fill="#d0141e" stroke="#7a1018" stroke-width="0.35"/>
<line x1="339.90" y1="54.20" x2="343.50" y2="54.20" stroke="#000000aa" stroke-width="0.35" />
<line x1="345.50" y1="50.00" x2="345.50" y2="52.50" stroke="#a0a4a8" stroke-width="0.4" />
<line x1="345.50" y1="55.40" x2="345.50" y2="57.00" stroke="#a0a4a8" stroke-width="0.4" />
<line x1="344.50" y1="50.00" x2="346.50" y2="50.00" stroke="#a0a4a8" stroke-width="0.4" />
<line x1="344.50" y1="57.00" x2="346.50" y2="57.00" stroke="#a0a4a8" stroke-width="0.4" />
<rect x="343.50" y="52.50" width="4.00" height="2.90" fill="#1d4f8c" stroke="#0e2c52" stroke-width="0.35"/>
<line x1="343.50" y1="53.95" x2="347.50" y2="53.95" stroke="#000000aa" stroke-width="0.35" />
<rect x="342.25" y="9.15" width="1.05" height="1.00" fill="#9a9a9a" />
<rect x="343.70" y="9.15" width="1.05" height="1.00" fill="#9a9a9a" />
<circle cx="273.5" cy="22.2" r="0.6" fill="#d04848"/>
<text transform="translate(260.50,66.80) rotate(-89.8)" font-size="4.576" fill="#2a2a2a" stroke="#2a2a2a" stroke-width="0.15" text-anchor="end" dominant-baseline="central">adhesion-molecules</text>
<text transform="translate(270.70,66.80) rotate(-89.8)" font-size="4.348" fill="#2a2a2a" stroke="#2a2a2a" stroke-width="0.15" text-anchor="end" dominant-baseline="central">chemokines</text>
<text transform="translate(281.00,66.80) rotate(-89.8)" font-size="4.590" fill="#2a2a2a" stroke="#2a2a2a" stroke-width="0.15" text-anchor="end" dominant-baseline="central">Cytolytic-activity</text>
<text transform="translate(292.00,66.80) rotate(-89.8)" font-size="4.490" fill="#2a2a2a" stroke="#2a2a2a" stroke-width="0.15" text-anchor="end" dominant-baseline="central">IFNg-signature</text>
<text transform="translate(303.00,66.80) rotate(-89.8)" font-size="4.420" fill="#2a2a2a" stroke="#2a2a2a" stroke-width="0.15" text-anchor="end" dominant-baseline="central">Immunocostimulators</text>
<text transform="translate(313.40,66.80) rotate(-89.8)" font-size="4.623" fill="#2a2a2a" stroke="#2a2a2a" stroke-width="0.15" text-anchor="end" dominant-baseline="central">Immunoinhibitors</text>
<text transform="translate(323.60,66.80) rotate(-89.8)" font-size="4.400" fill="#2a2a2a" stroke="#2a2a2a" stroke-width="0.15" text-anchor="end" dominant-baseline="central">MHC-class-I</text>
<text transform="translate(333.80,66.80) rotate(-89.8)" font-size="4.466" fill="#2a2a2a" stroke="#2a2a2a" stroke-width="0.15" text-anchor="end" dominant-baseline="central">MHC-class-II</text>
<text transform="translate(344.00,66.80) rotate(-89.8)" font-size="4.386" fill="#2a2a2a" stroke="#2a2a2a" stroke-width="0.15" text-anchor="end" dominant-baseline="central">Non-class</text>
<text x="353.75" y="22.80" font-size="4.700" fill="#3a3a3a" stroke="#3a3a3a" stroke-width="0.15" transform="rotate(0.25 353.75 22.80)" >Group</text>
<rect x="353.90" y="26.25" width="7.20" height="3.75" fill="#d0141e" stroke="#6a0e18" stroke-width="0.45"/>
<rect x="353.90" y="33.30" width="7.20" height="3.30" fill="#1d4f8c" stroke="#0c2848" stroke-width="0.45"/>
<text x="363.75" y="29.90" font-size="3.948" fill="#444" stroke="#444" stroke-width="0.15" transform="rotate(0.25 363.75 29.90)" >STAS_positive</text>
<text x="363.75" y="36.40" font-size="3.913" fill="#444" stroke="#444" stroke-width="0.15" transform="rotate(0.25 363.75 36.40)" >STAS_negative</text>
<text transform="translate(0.6,118.8) scale(1,1.15)" x="0" y="0" font-size="9.5" font-weight="bold" fill="#000" stroke="#000" stroke-width="0.25">C</text>
<rect x="10.5" y="119.5" width="189.9" height="60.3" fill="none" stroke="#d4d4d4" stroke-width="0.5"/>
<rect x="7.60" y="122.00" width="1.60" height="1.00" fill="#c8c8c8" />
<rect x="7.60" y="135.50" width="1.60" height="1.00" fill="#c8c8c8" />
<rect x="7.60" y="149.50" width="1.60" height="1.00" fill="#c8c8c8" />
<rect x="7.60" y="163.00" width="1.60" height="1.00" fill="#c8c8c8" />
<rect x="7.60" y="176.50" width="1.60" height="1.00" fill="#c8c8c8" />
<text transform="translate(3.75,150.10) rotate(-89.8)" font-size="3.700" fill="#333" stroke="#333" stroke-width="0.15" text-anchor="middle" dominant-baseline="central">Score</text>
<line x1="12.90" y1="147.76" x2="12.90" y2="154.40" stroke="#a8a0a0" stroke-width="0.4" />
<line x1="12.90" y1="168.00" x2="12.90" y2="174.64" stroke="#a8a0a0" stroke-width="0.4" />
<line x1="12.20" y1="147.76" x2="13.60" y2="147.76" stroke="#a8a0a0" stroke-width="0.4" />
<line x1="12.20" y1="174.64" x2="13.60" y2="174.64" stroke="#a8a0a0" stroke-width="0.4" />
<rect x="11.50" y="154.40" width="2.80" height="13.60" fill="#bc1c2a" stroke="#7a1018" stroke-width="0.35"/>
<line x1="11.50" y1="161.20" x2="14.30" y2="161.20" stroke="#000000aa" stroke-width="0.35" />
<line x1="15.55" y1="152.80" x2="15.55" y2="158.00" stroke="#a0a4a8" stroke-width="0.4" />
<line x1="15.55" y1="168.00" x2="15.55" y2="173.20" stroke="#a0a4a8" stroke-width="0.4" />
<line x1="14.93" y1="152.80" x2="16.18" y2="152.80" stroke="#a0a4a8" stroke-width="0.4" />
<line x1="14.93" y1="173.20" x2="16.18" y2="173.20" stroke="#a0a4a8" stroke-width="0.4" />
<rect x="14.30" y="158.00" width="2.50" height="10.00" fill="#1c4c78" stroke="#0e2c52" stroke-width="0.35"/>
<line x1="14.30" y1="163.00" x2="16.80" y2="163.00" stroke="#000000aa" stroke-width="0.35" />
<rect x="13.40" y="121.60" width="0.76" height="1.00" fill="#b0b0b0" />
<rect x="14.44" y="121.60" width="0.76" height="1.00" fill="#b0b0b0" />
<line x1="19.64" y1="144.12" x2="19.64" y2="147.00" stroke="#a8a0a0" stroke-width="0.4" />
<line x1="19.64" y1="151.20" x2="19.64" y2="154.08" stroke="#a8a0a0" stroke-width="0.4" />
<line x1="18.94" y1="144.12" x2="20.34" y2="144.12" stroke="#a8a0a0" stroke-width="0.4" />
<line x1="18.94" y1="154.08" x2="20.34" y2="154.08" stroke="#a8a0a0" stroke-width="0.4" />
<rect x="18.24" y="147.00" width="2.80" height="4.20" fill="#bc1c2a" stroke="#7a1018" stroke-width="0.35"/>
<line x1="18.24" y1="149.10" x2="21.04" y2="149.10" stroke="#000000aa" stroke-width="0.35" />
<line x1="22.29" y1="144.60" x2="22.29" y2="149.00" stroke="#a0a4a8" stroke-width="0.4" />
<line x1="22.29" y1="157.00" x2="22.29" y2="161.40" stroke="#a0a4a8" stroke-width="0.4" />
<line x1="21.66" y1="144.60" x2="22.91" y2="144.60" stroke="#a0a4a8" stroke-width="0.4" />
<line x1="21.66" y1="161.40" x2="22.91" y2="161.40" stroke="#a0a4a8" stroke-width="0.4" />
<rect x="21.04" y="149.00" width="2.50" height="8.00" fill="#1c4c78" stroke="#0e2c52" stroke-width="0.35"/>
<line x1="21.04" y1="153.00" x2="23.54" y2="153.00" stroke="#000000aa" stroke-width="0.35" />
<rect x="20.14" y="121.60" width="0.76" height="1.00" fill="#b0b0b0" />
<rect x="21.18" y="121.60" width="0.76" height="1.00" fill="#b0b0b0" />
<line x1="26.38" y1="135.30" x2="26.38" y2="137.50" stroke="#a8a0a0" stroke-width="0.4" />
<line x1="26.38" y1="140.00" x2="26.38" y2="142.20" stroke="#a8a0a0" stroke-width="0.4" />
<line x1="25.68" y1="135.30" x2="27.08" y2="135.30" stroke="#a8a0a0" stroke-width="0.4" />
<line x1="25.68" y1="142.20" x2="27.08" y2="142.20" stroke="#a8a0a0" stroke-width="0.4" />
<rect x="24.98" y="137.50" width="2.80" height="2.50" fill="#bc1c2a" stroke="#7a1018" stroke-width="0.35"/>
<line x1="24.98" y1="138.75" x2="27.78" y2="138.75" stroke="#000000aa" stroke-width="0.35" />
<line x1="29.03" y1="133.00" x2="29.03" y2="137.00" stroke="#a0a4a8" stroke-width="0.4" />
<line x1="29.03" y1="144.00" x2="29.03" y2="148.00" stroke="#a0a4a8" stroke-width="0.4" />
<line x1="28.41" y1="133.00" x2="29.66" y2="133.00" stroke="#a0a4a8" stroke-width="0.4" />
<line x1="28.41" y1="148.00" x2="29.66" y2="148.00" stroke="#a0a4a8" stroke-width="0.4" />
<rect x="27.78" y="137.00" width="2.50" height="7.00" fill="#1c4c78" stroke="#0e2c52" stroke-width="0.35"/>
<line x1="27.78" y1="140.50" x2="30.28" y2="140.50" stroke="#000000aa" stroke-width="0.35" />
<rect x="26.88" y="121.60" width="0.76" height="1.00" fill="#b0b0b0" />
<rect x="27.92" y="121.60" width="0.76" height="1.00" fill="#b0b0b0" />
<line x1="33.12" y1="141.56" x2="33.12" y2="143.80" stroke="#a8a0a0" stroke-width="0.4" />
<line x1="33.12" y1="146.40" x2="33.12" y2="148.64" stroke="#a8a0a0" stroke-width="0.4" />
<line x1="32.42" y1="141.56" x2="33.82" y2="141.56" stroke="#a8a0a0" stroke-width="0.4" />
<line x1="32.42" y1="148.64" x2="33.82" y2="148.64" stroke="#a8a0a0" stroke-width="0.4" />
<rect x="31.72" y="143.80" width="2.80" height="2.60" fill="#bc1c2a" stroke="#7a1018" stroke-width="0.35"/>
<line x1="31.72" y1="145.10" x2="34.52" y2="145.10" stroke="#000000aa" stroke-width="0.35" />
<line x1="35.77" y1="142.46" x2="35.77" y2="144.50" stroke="#a0a4a8" stroke-width="0.4" />
<line x1="35.77" y1="146.60" x2="35.77" y2="148.64" stroke="#a0a4a8" stroke-width="0.4" />
<line x1="35.14" y1="142.46" x2="36.39" y2="142.46" stroke="#a0a4a8" stroke-width="0.4" />
<line x1="35.14" y1="148.64" x2="36.39" y2="148.64" stroke="#a0a4a8" stroke-width="0.4" />
<rect x="34.52" y="144.50" width="2.50" height="2.10" fill="#1c4c78" stroke="#0e2c52" stroke-width="0.35"/>
<line x1="34.52" y1="145.55" x2="37.02" y2="145.55" stroke="#000000aa" stroke-width="0.35" />
<rect x="33.62" y="121.60" width="0.76" height="1.00" fill="#b0b0b0" />
<rect x="34.66" y="121.60" width="0.76" height="1.00" fill="#b0b0b0" />
<line x1="39.86" y1="145.44" x2="39.86" y2="147.60" stroke="#a8a0a0" stroke-width="0.4" />
<line x1="39.86" y1="150.00" x2="39.86" y2="152.16" stroke="#a8a0a0" stroke-width="0.4" />
<line x1="39.16" y1="145.44" x2="40.56" y2="145.44" stroke="#a8a0a0" stroke-width="0.4" />
<line x1="39.16" y1="152.16" x2="40.56" y2="152.16" stroke="#a8a0a0" stroke-width="0.4" />
<rect x="38.46" y="147.60" width="2.80" height="2.40" fill="#bc1c2a" stroke="#7a1018" stroke-width="0.35"/>
<line x1="38.46" y1="148.80" x2="41.26" y2="148.80" stroke="#000000aa" stroke-width="0.35" />
<line x1="42.51" y1="145.24" x2="42.51" y2="147.60" stroke="#a0a4a8" stroke-width="0.4" />
<line x1="42.51" y1="150.50" x2="42.51" y2="152.86" stroke="#a0a4a8" stroke-width="0.4" />
<line x1="41.89" y1="145.24" x2="43.14" y2="145.24" stroke="#a0a4a8" stroke-width="0.4" />
<line x1="41.89" y1="152.86" x2="43.14" y2="152.86" stroke="#a0a4a8" stroke-width="0.4" />
<rect x="41.26" y="147.60" width="2.50" height="2.90" fill="#1c4c78" stroke="#0e2c52" stroke-width="0.35"/>
<line x1="41.26" y1="149.05" x2="43.76" y2="149.05" stroke="#000000aa" stroke-width="0.35" />
<rect x="40.36" y="121.60" width="0.76" height="1.00" fill="#b0b0b0" />
<rect x="41.40" y="121.60" width="0.76" height="1.00" fill="#b0b0b0" />
<line x1="46.60" y1="139.18" x2="46.60" y2="141.70" stroke="#a8a0a0" stroke-width="0.4" />
<line x1="46.60" y1="145.00" x2="46.60" y2="147.52" stroke="#a8a0a0" stroke-width="0.4" />
<line x1="45.90" y1="139.18" x2="47.30" y2="139.18" stroke="#a8a0a0" stroke-width="0.4" />
<line x1="45.90" y1="147.52" x2="47.30" y2="147.52" stroke="#a8a0a0" stroke-width="0.4" />
<rect x="45.20" y="141.70" width="2.80" height="3.30" fill="#bc1c2a" stroke="#7a1018" stroke-width="0.35"/>
<line x1="45.20" y1="143.35" x2="48.00" y2="143.35" stroke="#000000aa" stroke-width="0.35" />
<line x1="49.25" y1="139.60" x2="49.25" y2="142.00" stroke="#a0a4a8" stroke-width="0.4" />
<line x1="49.25" y1="145.00" x2="49.25" y2="147.40" stroke="#a0a4a8" stroke-width="0.4" />
<line x1="48.62" y1="139.60" x2="49.88" y2="139.60" stroke="#a0a4a8" stroke-width="0.4" />
<line x1="48.62" y1="147.40" x2="49.88" y2="147.40" stroke="#a0a4a8" stroke-width="0.4" />
<rect x="48.00" y="142.00" width="2.50" height="3.00" fill="#1c4c78" stroke="#0e2c52" stroke-width="0.35"/>
<line x1="48.00" y1="143.50" x2="50.50" y2="143.50" stroke="#000000aa" stroke-width="0.35" />
<rect x="47.10" y="121.60" width="0.76" height="1.00" fill="#b0b0b0" />
<rect x="48.14" y="121.60" width="0.76" height="1.00" fill="#b0b0b0" />
<line x1="53.34" y1="120.60" x2="53.34" y2="123.00" stroke="#a8a0a0" stroke-width="0.4" />
<line x1="53.34" y1="126.00" x2="53.34" y2="128.40" stroke="#a8a0a0" stroke-width="0.4" />
<line x1="52.64" y1="120.60" x2="54.04" y2="120.60" stroke="#a8a0a0" stroke-width="0.4" />
<line x1="52.64" y1="128.40" x2="54.04" y2="128.40" stroke="#a8a0a0" stroke-width="0.4" />
<rect x="51.94" y="123.00" width="2.80" height="3.00" fill="#bc1c2a" stroke="#7a1018" stroke-width="0.35"/>
<line x1="51.94" y1="124.50" x2="54.74" y2="124.50" stroke="#000000aa" stroke-width="0.35" />
<line x1="55.99" y1="121.58" x2="55.99" y2="123.70" stroke="#a0a4a8" stroke-width="0.4" />
<line x1="55.99" y1="126.00" x2="55.99" y2="128.12" stroke="#a0a4a8" stroke-width="0.4" />
<line x1="55.36" y1="121.58" x2="56.61" y2="121.58" stroke="#a0a4a8" stroke-width="0.4" />
<line x1="55.36" y1="128.12" x2="56.61" y2="128.12" stroke="#a0a4a8" stroke-width="0.4" />
<rect x="54.74" y="123.70" width="2.50" height="2.30" fill="#1c4c78" stroke="#0e2c52" stroke-width="0.35"/>
<line x1="54.74" y1="124.85" x2="57.24" y2="124.85" stroke="#000000aa" stroke-width="0.35" />
<rect x="53.84" y="121.60" width="0.76" height="1.00" fill="#b0b0b0" />
<rect x="54.88" y="121.60" width="0.76" height="1.00" fill="#b0b0b0" />
<line x1="60.08" y1="132.40" x2="60.08" y2="135.00" stroke="#a8a0a0" stroke-width="0.4" />
<line x1="60.08" y1="138.50" x2="60.08" y2="141.10" stroke="#a8a0a0" stroke-width="0.4" />
<line x1="59.38" y1="132.40" x2="60.78" y2="132.40" stroke="#a8a0a0" stroke-width="0.4" />
<line x1="59.38" y1="141.10" x2="60.78" y2="141.10" stroke="#a8a0a0" stroke-width="0.4" />
<rect x="58.68" y="135.00" width="2.80" height="3.50" fill="#bc1c2a" stroke="#7a1018" stroke-width="0.35"/>
<line x1="58.68" y1="136.75" x2="61.48" y2="136.75" stroke="#000000aa" stroke-width="0.35" />
<line x1="62.73" y1="133.72" x2="62.73" y2="135.80" stroke="#a0a4a8" stroke-width="0.4" />
<line x1="62.73" y1="138.00" x2="62.73" y2="140.08" stroke="#a0a4a8" stroke-width="0.4" />
<line x1="62.11" y1="133.72" x2="63.36" y2="133.72" stroke="#a0a4a8" stroke-width="0.4" />
<line x1="62.11" y1="140.08" x2="63.36" y2="140.08" stroke="#a0a4a8" stroke-width="0.4" />
<rect x="61.48" y="135.80" width="2.50" height="2.20" fill="#1c4c78" stroke="#0e2c52" stroke-width="0.35"/>
<line x1="61.48" y1="136.90" x2="63.98" y2="136.90" stroke="#000000aa" stroke-width="0.35" />
<rect x="60.58" y="121.60" width="0.76" height="1.00" fill="#b0b0b0" />
<rect x="61.62" y="121.60" width="0.76" height="1.00" fill="#b0b0b0" />
<line x1="66.82" y1="144.20" x2="66.82" y2="147.00" stroke="#a8a0a0" stroke-width="0.4" />
<line x1="66.82" y1="151.00" x2="66.82" y2="153.80" stroke="#a8a0a0" stroke-width="0.4" />
<line x1="66.12" y1="144.20" x2="67.52" y2="144.20" stroke="#a8a0a0" stroke-width="0.4" />
<line x1="66.12" y1="153.80" x2="67.52" y2="153.80" stroke="#a8a0a0" stroke-width="0.4" />
<rect x="65.42" y="147.00" width="2.80" height="4.00" fill="#bc1c2a" stroke="#7a1018" stroke-width="0.35"/>
<line x1="65.42" y1="149.00" x2="68.22" y2="149.00" stroke="#000000aa" stroke-width="0.35" />
<line x1="69.47" y1="145.20" x2="69.47" y2="147.60" stroke="#a0a4a8" stroke-width="0.4" />
<line x1="69.47" y1="150.60" x2="69.47" y2="153.00" stroke="#a0a4a8" stroke-width="0.4" />
<line x1="68.84" y1="145.20" x2="70.09" y2="145.20" stroke="#a0a4a8" stroke-width="0.4" />
<line x1="68.84" y1="153.00" x2="70.09" y2="153.00" stroke="#a0a4a8" stroke-width="0.4" />
<rect x="68.22" y="147.60" width="2.50" height="3.00" fill="#1c4c78" stroke="#0e2c52" stroke-width="0.35"/>
<line x1="68.22" y1="149.10" x2="70.72" y2="149.10" stroke="#000000aa" stroke-width="0.35" />
<rect x="67.32" y="121.60" width="0.76" height="1.00" fill="#b0b0b0" />
<rect x="68.36" y="121.60" width="0.76" height="1.00" fill="#b0b0b0" />
<line x1="73.56" y1="142.90" x2="73.56" y2="145.50" stroke="#a8a0a0" stroke-width="0.4" />
<line x1="73.56" y1="149.00" x2="73.56" y2="151.60" stroke="#a8a0a0" stroke-width="0.4" />
<line x1="72.86" y1="142.90" x2="74.26" y2="142.90" stroke="#a8a0a0" stroke-width="0.4" />
<line x1="72.86" y1="151.60" x2="74.26" y2="151.60" stroke="#a8a0a0" stroke-width="0.4" />
<rect x="72.16" y="145.50" width="2.80" height="3.50" fill="#bc1c2a" stroke="#7a1018" stroke-width="0.35"/>
<line x1="72.16" y1="147.25" x2="74.96" y2="147.25" stroke="#000000aa" stroke-width="0.35" />
<line x1="76.21" y1="145.00" x2="76.21" y2="147.00" stroke="#a0a4a8" stroke-width="0.4" />
<line x1="76.21" y1="149.00" x2="76.21" y2="151.00" stroke="#a0a4a8" stroke-width="0.4" />
<line x1="75.59" y1="145.00" x2="76.84" y2="145.00" stroke="#a0a4a8" stroke-width="0.4" />
<line x1="75.59" y1="151.00" x2="76.84" y2="151.00" stroke="#a0a4a8" stroke-width="0.4" />
<rect x="74.96" y="147.00" width="2.50" height="2.00" fill="#1c4c78" stroke="#0e2c52" stroke-width="0.35"/>
<line x1="74.96" y1="148.00" x2="77.46" y2="148.00" stroke="#000000aa" stroke-width="0.35" />
<rect x="74.06" y="121.60" width="0.76" height="1.00" fill="#b0b0b0" />
<rect x="75.10" y="121.60" width="0.76" height="1.00" fill="#b0b0b0" />
<line x1="80.30" y1="145.78" x2="80.30" y2="149.70" stroke="#a8a0a0" stroke-width="0.4" />
<line x1="80.30" y1="156.50" x2="80.30" y2="160.42" stroke="#a8a0a0" stroke-width="0.4" />
<line x1="79.60" y1="145.78" x2="81.00" y2="145.78" stroke="#a8a0a0" stroke-width="0.4" />
<line x1="79.60" y1="160.42" x2="81.00" y2="160.42" stroke="#a8a0a0" stroke-width="0.4" />
<rect x="78.90" y="149.70" width="2.80" height="6.80" fill="#bc1c2a" stroke="#7a1018" stroke-width="0.35"/>
<line x1="78.90" y1="153.10" x2="81.70" y2="153.10" stroke="#000000aa" stroke-width="0.35" />
<line x1="82.95" y1="146.20" x2="82.95" y2="150.00" stroke="#a0a4a8" stroke-width="0.4" />
<line x1="82.95" y1="156.50" x2="82.95" y2="160.30" stroke="#a0a4a8" stroke-width="0.4" />
<line x1="82.33" y1="146.20" x2="83.58" y2="146.20" stroke="#a0a4a8" stroke-width="0.4" />
<line x1="82.33" y1="160.30" x2="83.58" y2="160.30" stroke="#a0a4a8" stroke-width="0.4" />
<rect x="81.70" y="150.00" width="2.50" height="6.50" fill="#1c4c78" stroke="#0e2c52" stroke-width="0.35"/>
<line x1="81.70" y1="153.25" x2="84.20" y2="153.25" stroke="#000000aa" stroke-width="0.35" />
<rect x="80.80" y="121.60" width="0.76" height="1.00" fill="#b0b0b0" />
<rect x="81.84" y="121.60" width="0.76" height="1.00" fill="#b0b0b0" />
<line x1="87.04" y1="142.06" x2="87.04" y2="144.50" stroke="#a8a0a0" stroke-width="0.4" />
<line x1="87.04" y1="147.60" x2="87.04" y2="150.04" stroke="#a8a0a0" stroke-width="0.4" />
<line x1="86.34" y1="142.06" x2="87.74" y2="142.06" stroke="#a8a0a0" stroke-width="0.4" />
<line x1="86.34" y1="150.04" x2="87.74" y2="150.04" stroke="#a8a0a0" stroke-width="0.4" />
<rect x="85.64" y="144.50" width="2.80" height="3.10" fill="#bc1c2a" stroke="#7a1018" stroke-width="0.35"/>
<line x1="85.64" y1="146.05" x2="88.44" y2="146.05" stroke="#000000aa" stroke-width="0.35" />
<line x1="89.69" y1="143.00" x2="89.69" y2="145.00" stroke="#a0a4a8" stroke-width="0.4" />
<line x1="89.69" y1="147.00" x2="89.69" y2="149.00" stroke="#a0a4a8" stroke-width="0.4" />
<line x1="89.06" y1="143.00" x2="90.31" y2="143.00" stroke="#a0a4a8" stroke-width="0.4" />
<line x1="89.06" y1="149.00" x2="90.31" y2="149.00" stroke="#a0a4a8" stroke-width="0.4" />
<rect x="88.44" y="145.00" width="2.50" height="2.00" fill="#1c4c78" stroke="#0e2c52" stroke-width="0.35"/>
<line x1="88.44" y1="146.00" x2="90.94" y2="146.00" stroke="#000000aa" stroke-width="0.35" />
<rect x="87.54" y="121.60" width="0.76" height="1.00" fill="#b0b0b0" />
<rect x="88.58" y="121.60" width="0.76" height="1.00" fill="#b0b0b0" />
<line x1="93.78" y1="145.92" x2="93.78" y2="151.00" stroke="#a8a0a0" stroke-width="0.4" />
<line x1="93.78" y1="160.70" x2="93.78" y2="165.78" stroke="#a8a0a0" stroke-width="0.4" />
<line x1="93.08" y1="145.92" x2="94.48" y2="145.92" stroke="#a8a0a0" stroke-width="0.4" />
<line x1="93.08" y1="165.78" x2="94.48" y2="165.78" stroke="#a8a0a0" stroke-width="0.4" />
<rect x="92.38" y="151.00" width="2.80" height="9.70" fill="#bc1c2a" stroke="#7a1018" stroke-width="0.35"/>
<line x1="92.38" y1="155.85" x2="95.18" y2="155.85" stroke="#000000aa" stroke-width="0.35" />
<line x1="96.43" y1="145.18" x2="96.43" y2="149.70" stroke="#a0a4a8" stroke-width="0.4" />
<line x1="96.43" y1="158.00" x2="96.43" y2="162.52" stroke="#a0a4a8" stroke-width="0.4" />
<line x1="95.80" y1="145.18" x2="97.05" y2="145.18" stroke="#a0a4a8" stroke-width="0.4" />
<line x1="95.80" y1="162.52" x2="97.05" y2="162.52" stroke="#a0a4a8" stroke-width="0.4" />
<rect x="95.18" y="149.70" width="2.50" height="8.30" fill="#1c4c78" stroke="#0e2c52" stroke-width="0.35"/>
<line x1="95.18" y1="153.85" x2="97.68" y2="153.85" stroke="#000000aa" stroke-width="0.35" />
<rect x="94.28" y="121.60" width="0.76" height="1.00" fill="#b0b0b0" />
<rect x="95.32" y="121.60" width="0.76" height="1.00" fill="#b0b0b0" />
<line x1="100.52" y1="130.40" x2="100.52" y2="132.80" stroke="#a8a0a0" stroke-width="0.4" />
<line x1="100.52" y1="135.80" x2="100.52" y2="138.20" stroke="#a8a0a0" stroke-width="0.4" />
<line x1="99.82" y1="130.40" x2="101.22" y2="130.40" stroke="#a8a0a0" stroke-width="0.4" />
<line x1="99.82" y1="138.20" x2="101.22" y2="138.20" stroke="#a8a0a0" stroke-width="0.4" />
<rect x="99.12" y="132.80" width="2.80" height="3.00" fill="#bc1c2a" stroke="#7a1018" stroke-width="0.35"/>
<line x1="99.12" y1="134.30" x2="101.92" y2="134.30" stroke="#000000aa" stroke-width="0.35" />
<line x1="103.17" y1="130.96" x2="103.17" y2="133.20" stroke="#a0a4a8" stroke-width="0.4" />
<line x1="103.17" y1="135.80" x2="103.17" y2="138.04" stroke="#a0a4a8" stroke-width="0.4" />
<line x1="102.55" y1="130.96" x2="103.80" y2="130.96" stroke="#a0a4a8" stroke-width="0.4" />
<line x1="102.55" y1="138.04" x2="103.80" y2="138.04" stroke="#a0a4a8" stroke-width="0.4" />
<rect x="101.92" y="133.20" width="2.50" height="2.60" fill="#1c4c78" stroke="#0e2c52" stroke-width="0.35"/>
<line x1="101.92" y1="134.50" x2="104.42" y2="134.50" stroke="#000000aa" stroke-width="0.35" />
<rect x="101.02" y="121.60" width="0.76" height="1.00" fill="#b0b0b0" />
<rect x="102.06" y="121.60" width="0.76" height="1.00" fill="#b0b0b0" />
<line x1="107.26" y1="155.04" x2="107.26" y2="158.00" stroke="#a8a0a0" stroke-width="0.4" />
<line x1="107.26" y1="162.40" x2="107.26" y2="165.36" stroke="#a8a0a0" stroke-width="0.4" />
<line x1="106.56" y1="155.04" x2="107.96" y2="155.04" stroke="#a8a0a0" stroke-width="0.4" />
<line x1="106.56" y1="165.36" x2="107.96" y2="165.36" stroke="#a8a0a0" stroke-width="0.4" />
<rect x="105.86" y="158.00" width="2.80" height="4.40" fill="#bc1c2a" stroke="#7a1018" stroke-width="0.35"/>
<line x1="105.86" y1="160.20" x2="108.66" y2="160.20" stroke="#000000aa" stroke-width="0.35" />
<line x1="109.91" y1="156.12" x2="109.91" y2="158.60" stroke="#a0a4a8" stroke-width="0.4" />
<line x1="109.91" y1="161.80" x2="109.91" y2="164.28" stroke="#a0a4a8" stroke-width="0.4" />
<line x1="109.28" y1="156.12" x2="110.53" y2="156.12" stroke="#a0a4a8" stroke-width="0.4" />
<line x1="109.28" y1="164.28" x2="110.53" y2="164.28" stroke="#a0a4a8" stroke-width="0.4" />
<rect x="108.66" y="158.60" width="2.50" height="3.20" fill="#1c4c78" stroke="#0e2c52" stroke-width="0.35"/>
<line x1="108.66" y1="160.20" x2="111.16" y2="160.20" stroke="#000000aa" stroke-width="0.35" />
<rect x="107.76" y="121.60" width="0.76" height="1.00" fill="#b0b0b0" />
<rect x="108.80" y="121.60" width="0.76" height="1.00" fill="#b0b0b0" />
<line x1="114.00" y1="137.24" x2="114.00" y2="140.60" stroke="#a8a0a0" stroke-width="0.4" />
<line x1="114.00" y1="146.00" x2="114.00" y2="149.36" stroke="#a8a0a0" stroke-width="0.4" />
<line x1="113.30" y1="137.24" x2="114.70" y2="137.24" stroke="#a8a0a0" stroke-width="0.4" />
<line x1="113.30" y1="149.36" x2="114.70" y2="149.36" stroke="#a8a0a0" stroke-width="0.4" />
<rect x="112.60" y="140.60" width="2.80" height="5.40" fill="#bc1c2a" stroke="#7a1018" stroke-width="0.35"/>
<line x1="112.60" y1="143.30" x2="115.40" y2="143.30" stroke="#000000aa" stroke-width="0.35" />
<line x1="116.65" y1="137.64" x2="116.65" y2="140.60" stroke="#a0a4a8" stroke-width="0.4" />
<line x1="116.65" y1="145.00" x2="116.65" y2="147.96" stroke="#a0a4a8" stroke-width="0.4" />
<line x1="116.03" y1="137.64" x2="117.28" y2="137.64" stroke="#a0a4a8" stroke-width="0.4" />
<line x1="116.03" y1="147.96" x2="117.28" y2="147.96" stroke="#a0a4a8" stroke-width="0.4" />
<rect x="115.40" y="140.60" width="2.50" height="4.40" fill="#1c4c78" stroke="#0e2c52" stroke-width="0.35"/>
<line x1="115.40" y1="142.80" x2="117.90" y2="142.80" stroke="#000000aa" stroke-width="0.35" />
<rect x="114.50" y="121.60" width="0.76" height="1.00" fill="#b0b0b0" />
<rect x="115.54" y="121.60" width="0.76" height="1.00" fill="#b0b0b0" />
<line x1="120.74" y1="127.40" x2="120.74" y2="131.00" stroke="#a8a0a0" stroke-width="0.4" />
<line x1="120.74" y1="137.00" x2="120.74" y2="140.60" stroke="#a8a0a0" stroke-width="0.4" />
<line x1="120.04" y1="127.40" x2="121.44" y2="127.40" stroke="#a8a0a0" stroke-width="0.4" />
<line x1="120.04" y1="140.60" x2="121.44" y2="140.60" stroke="#a8a0a0" stroke-width="0.4" />
<rect x="119.34" y="131.00" width="2.80" height="6.00" fill="#bc1c2a" stroke="#7a1018" stroke-width="0.35"/>
<line x1="119.34" y1="134.00" x2="122.14" y2="134.00" stroke="#000000aa" stroke-width="0.35" />
<line x1="123.39" y1="126.24" x2="123.39" y2="130.00" stroke="#a0a4a8" stroke-width="0.4" />
<line x1="123.39" y1="136.40" x2="123.39" y2="140.16" stroke="#a0a4a8" stroke-width="0.4" />
<line x1="122.77" y1="126.24" x2="124.02" y2="126.24" stroke="#a0a4a8" stroke-width="0.4" />
<line x1="122.77" y1="140.16" x2="124.02" y2="140.16" stroke="#a0a4a8" stroke-width="0.4" />
<rect x="122.14" y="130.00" width="2.50" height="6.40" fill="#1c4c78" stroke="#0e2c52" stroke-width="0.35"/>
<line x1="122.14" y1="133.20" x2="124.64" y2="133.20" stroke="#000000aa" stroke-width="0.35" />
<rect x="121.24" y="121.60" width="0.76" height="1.00" fill="#b0b0b0" />
<rect x="122.28" y="121.60" width="0.76" height="1.00" fill="#b0b0b0" />
<line x1="127.48" y1="154.72" x2="127.48" y2="157.60" stroke="#a8a0a0" stroke-width="0.4" />
<line x1="127.48" y1="161.80" x2="127.48" y2="164.68" stroke="#a8a0a0" stroke-width="0.4" />
<line x1="126.78" y1="154.72" x2="128.18" y2="154.72" stroke="#a8a0a0" stroke-width="0.4" />
<line x1="126.78" y1="164.68" x2="128.18" y2="164.68" stroke="#a8a0a0" stroke-width="0.4" />
<rect x="126.08" y="157.60" width="2.80" height="4.20" fill="#bc1c2a" stroke="#7a1018" stroke-width="0.35"/>
<line x1="126.08" y1="159.70" x2="128.88" y2="159.70" stroke="#000000aa" stroke-width="0.35" />
<line x1="130.13" y1="155.12" x2="130.13" y2="158.20" stroke="#a0a4a8" stroke-width="0.4" />
<line x1="130.13" y1="162.90" x2="130.13" y2="165.98" stroke="#a0a4a8" stroke-width="0.4" />
<line x1="129.50" y1="155.12" x2="130.75" y2="155.12" stroke="#a0a4a8" stroke-width="0.4" />
<line x1="129.50" y1="165.98" x2="130.75" y2="165.98" stroke="#a0a4a8" stroke-width="0.4" />
<rect x="128.88" y="158.20" width="2.50" height="4.70" fill="#1c4c78" stroke="#0e2c52" stroke-width="0.35"/>
<line x1="128.88" y1="160.55" x2="131.38" y2="160.55" stroke="#000000aa" stroke-width="0.35" />
<rect x="127.98" y="121.60" width="0.76" height="1.00" fill="#b0b0b0" />
<rect x="129.02" y="121.60" width="0.76" height="1.00" fill="#b0b0b0" />
<line x1="134.22" y1="136.72" x2="134.22" y2="139.60" stroke="#a8a0a0" stroke-width="0.4" />
<line x1="134.22" y1="143.80" x2="134.22" y2="146.68" stroke="#a8a0a0" stroke-width="0.4" />
<line x1="133.52" y1="136.72" x2="134.92" y2="136.72" stroke="#a8a0a0" stroke-width="0.4" />
<line x1="133.52" y1="146.68" x2="134.92" y2="146.68" stroke="#a8a0a0" stroke-width="0.4" />
<rect x="132.82" y="139.60" width="2.80" height="4.20" fill="#bc1c2a" stroke="#7a1018" stroke-width="0.35"/>
<line x1="132.82" y1="141.70" x2="135.62" y2="141.70" stroke="#000000aa" stroke-width="0.35" />
<line x1="136.87" y1="138.28" x2="136.87" y2="140.60" stroke="#a0a4a8" stroke-width="0.4" />
<line x1="136.87" y1="143.40" x2="136.87" y2="145.72" stroke="#a0a4a8" stroke-width="0.4" />
<line x1="136.25" y1="138.28" x2="137.50" y2="138.28" stroke="#a0a4a8" stroke-width="0.4" />
<line x1="136.25" y1="145.72" x2="137.50" y2="145.72" stroke="#a0a4a8" stroke-width="0.4" />
<rect x="135.62" y="140.60" width="2.50" height="2.80" fill="#1c4c78" stroke="#0e2c52" stroke-width="0.35"/>
<line x1="135.62" y1="142.00" x2="138.12" y2="142.00" stroke="#000000aa" stroke-width="0.35" />
<rect x="134.72" y="121.60" width="0.76" height="1.00" fill="#b0b0b0" />
<rect x="135.76" y="121.60" width="0.76" height="1.00" fill="#b0b0b0" />
<line x1="140.96" y1="133.76" x2="140.96" y2="136.40" stroke="#a8a0a0" stroke-width="0.4" />
<line x1="140.96" y1="140.00" x2="140.96" y2="142.64" stroke="#a8a0a0" stroke-width="0.4" />
<line x1="140.26" y1="133.76" x2="141.66" y2="133.76" stroke="#a8a0a0" stroke-width="0.4" />
<line x1="140.26" y1="142.64" x2="141.66" y2="142.64" stroke="#a8a0a0" stroke-width="0.4" />
<rect x="139.56" y="136.40" width="2.80" height="3.60" fill="#bc1c2a" stroke="#7a1018" stroke-width="0.35"/>
<line x1="139.56" y1="138.20" x2="142.36" y2="138.20" stroke="#000000aa" stroke-width="0.35" />
<line x1="143.61" y1="134.76" x2="143.61" y2="137.00" stroke="#a0a4a8" stroke-width="0.4" />
<line x1="143.61" y1="139.60" x2="143.61" y2="141.84" stroke="#a0a4a8" stroke-width="0.4" />
<line x1="142.99" y1="134.76" x2="144.24" y2="134.76" stroke="#a0a4a8" stroke-width="0.4" />
<line x1="142.99" y1="141.84" x2="144.24" y2="141.84" stroke="#a0a4a8" stroke-width="0.4" />
<rect x="142.36" y="137.00" width="2.50" height="2.60" fill="#1c4c78" stroke="#0e2c52" stroke-width="0.35"/>
<line x1="142.36" y1="138.30" x2="144.86" y2="138.30" stroke="#000000aa" stroke-width="0.35" />
<rect x="141.46" y="121.60" width="0.76" height="1.00" fill="#b0b0b0" />
<rect x="142.50" y="121.60" width="0.76" height="1.00" fill="#b0b0b0" />
<line x1="147.70" y1="150.38" x2="147.70" y2="153.30" stroke="#a8a0a0" stroke-width="0.4" />
<line x1="147.70" y1="157.60" x2="147.70" y2="160.52" stroke="#a8a0a0" stroke-width="0.4" />
<line x1="147.00" y1="150.38" x2="148.40" y2="150.38" stroke="#a8a0a0" stroke-width="0.4" />
<line x1="147.00" y1="160.52" x2="148.40" y2="160.52" stroke="#a8a0a0" stroke-width="0.4" />
<rect x="146.30" y="153.30" width="2.80" height="4.30" fill="#bc1c2a" stroke="#7a1018" stroke-width="0.35"/>
<line x1="146.30" y1="155.45" x2="149.10" y2="155.45" stroke="#000000aa" stroke-width="0.35" />
<line x1="150.35" y1="150.38" x2="150.35" y2="153.30" stroke="#a0a4a8" stroke-width="0.4" />
<line x1="150.35" y1="157.60" x2="150.35" y2="160.52" stroke="#a0a4a8" stroke-width="0.4" />
<line x1="149.73" y1="150.38" x2="150.98" y2="150.38" stroke="#a0a4a8" stroke-width="0.4" />
<line x1="149.73" y1="160.52" x2="150.98" y2="160.52" stroke="#a0a4a8" stroke-width="0.4" />
<rect x="149.10" y="153.30" width="2.50" height="4.30" fill="#1c4c78" stroke="#0e2c52" stroke-width="0.35"/>
<line x1="149.10" y1="155.45" x2="151.60" y2="155.45" stroke="#000000aa" stroke-width="0.35" />
<rect x="148.20" y="121.60" width="0.76" height="1.00" fill="#b0b0b0" />
<rect x="149.24" y="121.60" width="0.76" height="1.00" fill="#b0b0b0" />
<line x1="154.44" y1="158.88" x2="154.44" y2="162.80" stroke="#a8a0a0" stroke-width="0.4" />
<line x1="154.44" y1="169.60" x2="154.44" y2="173.52" stroke="#a8a0a0" stroke-width="0.4" />
<line x1="153.74" y1="158.88" x2="155.14" y2="158.88" stroke="#a8a0a0" stroke-width="0.4" />
<line x1="153.74" y1="173.52" x2="155.14" y2="173.52" stroke="#a8a0a0" stroke-width="0.4" />
<rect x="153.04" y="162.80" width="2.80" height="6.80" fill="#bc1c2a" stroke="#7a1018" stroke-width="0.35"/>
<line x1="153.04" y1="166.20" x2="155.84" y2="166.20" stroke="#000000aa" stroke-width="0.35" />
<line x1="157.09" y1="162.52" x2="157.09" y2="165.40" stroke="#a0a4a8" stroke-width="0.4" />
<line x1="157.09" y1="169.60" x2="157.09" y2="172.48" stroke="#a0a4a8" stroke-width="0.4" />
<line x1="156.47" y1="162.52" x2="157.72" y2="162.52" stroke="#a0a4a8" stroke-width="0.4" />
<line x1="156.47" y1="172.48" x2="157.72" y2="172.48" stroke="#a0a4a8" stroke-width="0.4" />
<rect x="155.84" y="165.40" width="2.50" height="4.20" fill="#1c4c78" stroke="#0e2c52" stroke-width="0.35"/>
<line x1="155.84" y1="167.50" x2="158.34" y2="167.50" stroke="#000000aa" stroke-width="0.35" />
<rect x="154.94" y="121.60" width="0.76" height="1.00" fill="#b0b0b0" />
<rect x="155.98" y="121.60" width="0.76" height="1.00" fill="#b0b0b0" />
<line x1="161.18" y1="132.96" x2="161.18" y2="135.40" stroke="#a8a0a0" stroke-width="0.4" />
<line x1="161.18" y1="138.50" x2="161.18" y2="140.94" stroke="#a8a0a0" stroke-width="0.4" />
<line x1="160.48" y1="132.96" x2="161.88" y2="132.96" stroke="#a8a0a0" stroke-width="0.4" />
<line x1="160.48" y1="140.94" x2="161.88" y2="140.94" stroke="#a8a0a0" stroke-width="0.4" />
<rect x="159.78" y="135.40" width="2.80" height="3.10" fill="#bc1c2a" stroke="#7a1018" stroke-width="0.35"/>
<line x1="159.78" y1="136.95" x2="162.58" y2="136.95" stroke="#000000aa" stroke-width="0.35" />
<line x1="163.83" y1="133.52" x2="163.83" y2="135.80" stroke="#a0a4a8" stroke-width="0.4" />
<line x1="163.83" y1="138.50" x2="163.83" y2="140.78" stroke="#a0a4a8" stroke-width="0.4" />
<line x1="163.21" y1="133.52" x2="164.46" y2="133.52" stroke="#a0a4a8" stroke-width="0.4" />
<line x1="163.21" y1="140.78" x2="164.46" y2="140.78" stroke="#a0a4a8" stroke-width="0.4" />
<rect x="162.58" y="135.80" width="2.50" height="2.70" fill="#1c4c78" stroke="#0e2c52" stroke-width="0.35"/>
<line x1="162.58" y1="137.15" x2="165.08" y2="137.15" stroke="#000000aa" stroke-width="0.35" />
<rect x="161.68" y="121.60" width="0.76" height="1.00" fill="#b0b0b0" />
<rect x="162.72" y="121.60" width="0.76" height="1.00" fill="#b0b0b0" />
<line x1="167.92" y1="137.24" x2="167.92" y2="140.60" stroke="#a8a0a0" stroke-width="0.4" />
<line x1="167.92" y1="146.00" x2="167.92" y2="149.36" stroke="#a8a0a0" stroke-width="0.4" />
<line x1="167.22" y1="137.24" x2="168.62" y2="137.24" stroke="#a8a0a0" stroke-width="0.4" />
<line x1="167.22" y1="149.36" x2="168.62" y2="149.36" stroke="#a8a0a0" stroke-width="0.4" />
<rect x="166.52" y="140.60" width="2.80" height="5.40" fill="#bc1c2a" stroke="#7a1018" stroke-width="0.35"/>
<line x1="166.52" y1="143.30" x2="169.32" y2="143.30" stroke="#000000aa" stroke-width="0.35" />
<line x1="170.57" y1="139.40" x2="170.57" y2="142.00" stroke="#a0a4a8" stroke-width="0.4" />
<line x1="170.57" y1="145.50" x2="170.57" y2="148.10" stroke="#a0a4a8" stroke-width="0.4" />
<line x1="169.95" y1="139.40" x2="171.20" y2="139.40" stroke="#a0a4a8" stroke-width="0.4" />
<line x1="169.95" y1="148.10" x2="171.20" y2="148.10" stroke="#a0a4a8" stroke-width="0.4" />
<rect x="169.32" y="142.00" width="2.50" height="3.50" fill="#1c4c78" stroke="#0e2c52" stroke-width="0.35"/>
<line x1="169.32" y1="143.75" x2="171.82" y2="143.75" stroke="#000000aa" stroke-width="0.35" />
<rect x="168.42" y="121.60" width="0.76" height="1.00" fill="#b0b0b0" />
<rect x="169.46" y="121.60" width="0.76" height="1.00" fill="#b0b0b0" />
<line x1="174.66" y1="144.36" x2="174.66" y2="147.00" stroke="#a8a0a0" stroke-width="0.4" />
<line x1="174.66" y1="150.60" x2="174.66" y2="153.24" stroke="#a8a0a0" stroke-width="0.4" />
<line x1="173.96" y1="144.36" x2="175.36" y2="144.36" stroke="#a8a0a0" stroke-width="0.4" />
<line x1="173.96" y1="153.24" x2="175.36" y2="153.24" stroke="#a8a0a0" stroke-width="0.4" />
<rect x="173.26" y="147.00" width="2.80" height="3.60" fill="#bc1c2a" stroke="#7a1018" stroke-width="0.35"/>
<line x1="173.26" y1="148.80" x2="176.06" y2="148.80" stroke="#000000aa" stroke-width="0.35" />
<line x1="177.31" y1="145.36" x2="177.31" y2="147.60" stroke="#a0a4a8" stroke-width="0.4" />
<line x1="177.31" y1="150.20" x2="177.31" y2="152.44" stroke="#a0a4a8" stroke-width="0.4" />
<line x1="176.69" y1="145.36" x2="177.94" y2="145.36" stroke="#a0a4a8" stroke-width="0.4" />
<line x1="176.69" y1="152.44" x2="177.94" y2="152.44" stroke="#a0a4a8" stroke-width="0.4" />
<rect x="176.06" y="147.60" width="2.50" height="2.60" fill="#1c4c78" stroke="#0e2c52" stroke-width="0.35"/>
<line x1="176.06" y1="148.90" x2="178.56" y2="148.90" stroke="#000000aa" stroke-width="0.35" />
<rect x="175.16" y="121.60" width="0.76" height="1.00" fill="#b0b0b0" />
<rect x="176.20" y="121.60" width="0.76" height="1.00" fill="#b0b0b0" />
<line x1="181.40" y1="144.72" x2="181.40" y2="147.00" stroke="#a8a0a0" stroke-width="0.4" />
<line x1="181.40" y1="149.70" x2="181.40" y2="151.98" stroke="#a8a0a0" stroke-width="0.4" />
<line x1="180.70" y1="144.72" x2="182.10" y2="144.72" stroke="#a8a0a0" stroke-width="0.4" />
<line x1="180.70" y1="151.98" x2="182.10" y2="151.98" stroke="#a8a0a0" stroke-width="0.4" />
<rect x="180.00" y="147.00" width="2.80" height="2.70" fill="#bc1c2a" stroke="#7a1018" stroke-width="0.35"/>
<line x1="180.00" y1="148.35" x2="182.80" y2="148.35" stroke="#000000aa" stroke-width="0.35" />
<line x1="184.05" y1="143.88" x2="184.05" y2="146.40" stroke="#a0a4a8" stroke-width="0.4" />
<line x1="184.05" y1="149.70" x2="184.05" y2="152.22" stroke="#a0a4a8" stroke-width="0.4" />
<line x1="183.43" y1="143.88" x2="184.68" y2="143.88" stroke="#a0a4a8" stroke-width="0.4" />
<line x1="183.43" y1="152.22" x2="184.68" y2="152.22" stroke="#a0a4a8" stroke-width="0.4" />
<rect x="182.80" y="146.40" width="2.50" height="3.30" fill="#1c4c78" stroke="#0e2c52" stroke-width="0.35"/>
<line x1="182.80" y1="148.05" x2="185.30" y2="148.05" stroke="#000000aa" stroke-width="0.35" />
<rect x="181.90" y="121.60" width="0.76" height="1.00" fill="#b0b0b0" />
<rect x="182.94" y="121.60" width="0.76" height="1.00" fill="#b0b0b0" />
<line x1="188.14" y1="155.80" x2="188.14" y2="158.20" stroke="#a8a0a0" stroke-width="0.4" />
<line x1="188.14" y1="161.20" x2="188.14" y2="163.60" stroke="#a8a0a0" stroke-width="0.4" />
<line x1="187.44" y1="155.80" x2="188.84" y2="155.80" stroke="#a8a0a0" stroke-width="0.4" />
<line x1="187.44" y1="163.60" x2="188.84" y2="163.60" stroke="#a8a0a0" stroke-width="0.4" />
<rect x="186.74" y="158.20" width="2.80" height="3.00" fill="#bc1c2a" stroke="#7a1018" stroke-width="0.35"/>
<line x1="186.74" y1="159.70" x2="189.54" y2="159.70" stroke="#000000aa" stroke-width="0.35" />
<line x1="190.79" y1="156.36" x2="190.79" y2="158.60" stroke="#a0a4a8" stroke-width="0.4" />
<line x1="190.79" y1="161.20" x2="190.79" y2="163.44" stroke="#a0a4a8" stroke-width="0.4" />
<line x1="190.17" y1="156.36" x2="191.42" y2="156.36" stroke="#a0a4a8" stroke-width="0.4" />
<line x1="190.17" y1="163.44" x2="191.42" y2="163.44" stroke="#a0a4a8" stroke-width="0.4" />
<rect x="189.54" y="158.60" width="2.50" height="2.60" fill="#1c4c78" stroke="#0e2c52" stroke-width="0.35"/>
<line x1="189.54" y1="159.90" x2="192.04" y2="159.90" stroke="#000000aa" stroke-width="0.35" />
<rect x="188.64" y="121.60" width="0.76" height="1.00" fill="#b0b0b0" />
<rect x="189.68" y="121.60" width="0.76" height="1.00" fill="#b0b0b0" />
<line x1="194.88" y1="140.52" x2="194.88" y2="143.80" stroke="#a8a0a0" stroke-width="0.4" />
<line x1="194.88" y1="149.00" x2="194.88" y2="152.28" stroke="#a8a0a0" stroke-width="0.4" />
<line x1="194.18" y1="140.52" x2="195.58" y2="140.52" stroke="#a8a0a0" stroke-width="0.4" />
<line x1="194.18" y1="152.28" x2="195.58" y2="152.28" stroke="#a8a0a0" stroke-width="0.4" />
<rect x="193.48" y="143.80" width="2.80" height="5.20" fill="#bc1c2a" stroke="#7a1018" stroke-width="0.35"/>
<line x1="193.48" y1="146.40" x2="196.28" y2="146.40" stroke="#000000aa" stroke-width="0.35" />
<line x1="197.53" y1="143.32" x2="197.53" y2="146.00" stroke="#a0a4a8" stroke-width="0.4" />
<line x1="197.53" y1="149.70" x2="197.53" y2="152.38" stroke="#a0a4a8" stroke-width="0.4" />
<line x1="196.91" y1="143.32" x2="198.16" y2="143.32" stroke="#a0a4a8" stroke-width="0.4" />
<line x1="196.91" y1="152.38" x2="198.16" y2="152.38" stroke="#a0a4a8" stroke-width="0.4" />
<rect x="196.28" y="146.00" width="2.50" height="3.70" fill="#1c4c78" stroke="#0e2c52" stroke-width="0.35"/>
<line x1="196.28" y1="147.85" x2="198.78" y2="147.85" stroke="#000000aa" stroke-width="0.35" />
<rect x="195.38" y="121.60" width="0.76" height="1.00" fill="#b0b0b0" />
<rect x="196.42" y="121.60" width="0.76" height="1.00" fill="#b0b0b0" />
<defs><clipPath id="clipC"><rect x="0" y="179" width="230" height="56.6"/></clipPath></defs><g clip-path="url(#clipC)">
<text transform="translate(13.90,182.20) rotate(-89.8)" font-size="4.000" fill="#2a2a2a" stroke="#2a2a2a" stroke-width="0.15" text-anchor="end" dominant-baseline="central">Activated_B_cell</text>
<text transform="translate(20.66,182.20) rotate(-89.8)" font-size="4.000" fill="#2a2a2a" stroke="#2a2a2a" stroke-width="0.15" text-anchor="end" dominant-baseline="central">Activated_CD4_T_cell</text>
<text transform="translate(27.41,182.20) rotate(-89.8)" font-size="4.000" fill="#2a2a2a" stroke="#2a2a2a" stroke-width="0.15" text-anchor="end" dominant-baseline="central">Activated_CD8_T_cell</text>
<text transform="translate(34.17,182.20) rotate(-89.8)" font-size="4.000" fill="#2a2a2a" stroke="#2a2a2a" stroke-width="0.15" text-anchor="end" dominant-baseline="central">Activated_dendritic_cell</text>
<text transform="translate(40.92,182.20) rotate(-89.8)" font-size="4.000" fill="#2a2a2a" stroke="#2a2a2a" stroke-width="0.15" text-anchor="end" dominant-baseline="central">CD56bright_natural_killer_cell</text>
<text transform="translate(47.68,182.20) rotate(-89.8)" font-size="4.000" fill="#2a2a2a" stroke="#2a2a2a" stroke-width="0.15" text-anchor="end" dominant-baseline="central">CD56dim_natural_killer_cell</text>
<text transform="translate(54.44,182.20) rotate(-89.8)" font-size="4.000" fill="#2a2a2a" stroke="#2a2a2a" stroke-width="0.15" text-anchor="end" dominant-baseline="central">Central_memory_CD4_T_cell</text>
<text transform="translate(61.19,182.20) rotate(-89.8)" font-size="4.000" fill="#2a2a2a" stroke="#2a2a2a" stroke-width="0.15" text-anchor="end" dominant-baseline="central">Central_memory_CD8_T_cell</text>
<text transform="translate(67.95,182.20) rotate(-89.8)" font-size="4.000" fill="#2a2a2a" stroke="#2a2a2a" stroke-width="0.15" text-anchor="end" dominant-baseline="central">Effector_memeory_CD4_T_cell</text>
<text transform="translate(74.70,182.20) rotate(-89.8)" font-size="4.000" fill="#2a2a2a" stroke="#2a2a2a" stroke-width="0.15" text-anchor="end" dominant-baseline="central">Effector_memeory_CD8_T_cell</text>
<text transform="translate(81.46,182.20) rotate(-89.8)" font-size="4.000" fill="#2a2a2a" stroke="#2a2a2a" stroke-width="0.15" text-anchor="end" dominant-baseline="central">Eosinophil</text>
<text transform="translate(88.22,182.20) rotate(-89.8)" font-size="4.000" fill="#2a2a2a" stroke="#2a2a2a" stroke-width="0.15" text-anchor="end" dominant-baseline="central">Gamma_delta_T_cell</text>
<text transform="translate(94.97,182.20) rotate(-89.8)" font-size="4.000" fill="#2a2a2a" stroke="#2a2a2a" stroke-width="0.15" text-anchor="end" dominant-baseline="central">Immature__B_cell</text>
<text transform="translate(101.73,182.20) rotate(-89.8)" font-size="4.000" fill="#2a2a2a" stroke="#2a2a2a" stroke-width="0.15" text-anchor="end" dominant-baseline="central">Immature_dendritic_cell</text>
<text transform="translate(108.48,182.20) rotate(-89.8)" font-size="4.000" fill="#2a2a2a" stroke="#2a2a2a" stroke-width="0.15" text-anchor="end" dominant-baseline="central">Macrophage</text>
<text transform="translate(115.24,182.20) rotate(-89.8)" font-size="4.000" fill="#2a2a2a" stroke="#2a2a2a" stroke-width="0.15" text-anchor="end" dominant-baseline="central">Mast_cell</text>
<text transform="translate(122.00,182.20) rotate(-89.8)" font-size="4.000" fill="#2a2a2a" stroke="#2a2a2a" stroke-width="0.15" text-anchor="end" dominant-baseline="central">MDSC</text>
<text transform="translate(128.75,182.20) rotate(-89.8)" font-size="4.000" fill="#2a2a2a" stroke="#2a2a2a" stroke-width="0.15" text-anchor="end" dominant-baseline="central">Memory_B_cell</text>
<text transform="translate(135.51,182.20) rotate(-89.8)" font-size="4.000" fill="#2a2a2a" stroke="#2a2a2a" stroke-width="0.15" text-anchor="end" dominant-baseline="central">Monocyte</text>
<text transform="translate(142.26,182.20) rotate(-89.8)" font-size="4.000" fill="#2a2a2a" stroke="#2a2a2a" stroke-width="0.15" text-anchor="end" dominant-baseline="central">Natural_killer_cell</text>
<text transform="translate(149.02,182.20) rotate(-89.8)" font-size="4.000" fill="#2a2a2a" stroke="#2a2a2a" stroke-width="0.15" text-anchor="end" dominant-baseline="central">Natural_killer_T_cell</text>
<text transform="translate(155.78,182.20) rotate(-89.8)" font-size="4.000" fill="#2a2a2a" stroke="#2a2a2a" stroke-width="0.15" text-anchor="end" dominant-baseline="central">Neutrophil</text>
<text transform="translate(162.53,182.20) rotate(-89.8)" font-size="4.000" fill="#2a2a2a" stroke="#2a2a2a" stroke-width="0.15" text-anchor="end" dominant-baseline="central">Plasmacytoid_dendritic_cell</text>
<text transform="translate(169.29,182.20) rotate(-89.8)" font-size="4.000" fill="#2a2a2a" stroke="#2a2a2a" stroke-width="0.15" text-anchor="end" dominant-baseline="central">Regulatory_T_cell</text>
<text transform="translate(176.04,182.20) rotate(-89.8)" font-size="4.000" fill="#2a2a2a" stroke="#2a2a2a" stroke-width="0.15" text-anchor="end" dominant-baseline="central">T_follicular_helper_cell</text>
<text transform="translate(182.80,182.20) rotate(-89.8)" font-size="4.000" fill="#2a2a2a" stroke="#2a2a2a" stroke-width="0.15" text-anchor="end" dominant-baseline="central">Type_1_T_helper_cell</text>
<text transform="translate(189.56,182.20) rotate(-89.8)" font-size="4.000" fill="#2a2a2a" stroke="#2a2a2a" stroke-width="0.15" text-anchor="end" dominant-baseline="central">Type_17_T_helper_cell</text>
<text transform="translate(196.31,182.20) rotate(-89.8)" font-size="4.000" fill="#2a2a2a" stroke="#2a2a2a" stroke-width="0.15" text-anchor="end" dominant-baseline="central">Type_2_T_helper_cell</text>
</g>
<text x="201.75" y="137.60" font-size="4.500" fill="#3a3a3a" stroke="#3a3a3a" stroke-width="0.15" transform="rotate(0.25 201.75 137.60)" >Group</text>
<rect x="201.90" y="141.40" width="6.00" height="3.00" fill="#d0141e" stroke="#6a0e18" stroke-width="0.45"/>
<rect x="201.90" y="147.40" width="6.00" height="3.20" fill="#1d4f8c" stroke="#0c2848" stroke-width="0.45"/>
<text x="211.10" y="144.20" font-size="3.670" fill="#444" stroke="#444" stroke-width="0.15" transform="rotate(0.25 211.10 144.20)" >STAS_positive</text>
<text x="211.10" y="150.40" font-size="3.636" fill="#444" stroke="#444" stroke-width="0.15" transform="rotate(0.25 211.10 150.40)" >STAS_negative</text>
<text transform="translate(234.5,118.6) scale(1,0.93)" x="0" y="0" font-size="9.5" font-weight="bold" fill="#000" stroke="#000" stroke-width="0.25">D</text>
<rect x="256.20" y="117.90" width="30.25" height="2.90" fill="#c8102e" />
<rect x="286.45" y="117.90" width="22.00" height="2.90" fill="#1a2888" />
<rect x="256.20" y="122.50" width="2.80" height="7.47" fill="#e87848" />
<rect x="258.95" y="122.50" width="2.80" height="7.47" fill="#fce0c0" />
<rect x="261.70" y="122.50" width="2.80" height="7.47" fill="#f09060" />
<rect x="264.45" y="122.50" width="2.80" height="7.47" fill="#f8d0b8" />
<rect x="267.20" y="122.50" width="2.80" height="7.47" fill="#f8f8fa" />
<rect x="269.95" y="122.50" width="2.80" height="7.47" fill="#f8d8c0" />
<rect x="272.70" y="122.50" width="2.80" height="7.47" fill="#f0b090" />
<rect x="275.45" y="122.50" width="2.80" height="7.47" fill="#f0f0f8" />
<rect x="278.20" y="122.50" width="2.80" height="7.47" fill="#a8b0e0" />
<rect x="280.95" y="122.50" width="2.80" height="7.47" fill="#c8c8e8" />
<rect x="283.70" y="122.50" width="2.80" height="7.47" fill="#f8f8fa" />
<rect x="286.45" y="122.50" width="2.80" height="7.47" fill="#e88050" />
<rect x="289.20" y="122.50" width="2.80" height="7.47" fill="#f8c8a8" />
<rect x="291.95" y="122.50" width="2.80" height="7.47" fill="#f8f8fa" />
<rect x="294.70" y="122.50" width="2.80" height="7.47" fill="#f8f8fa" />
<rect x="297.45" y="122.50" width="2.80" height="7.47" fill="#fae0d0" />
<rect x="300.20" y="122.50" width="2.80" height="7.47" fill="#f8f8fa" />
<rect x="302.95" y="122.50" width="2.80" height="7.47" fill="#c8c8e8" />
<rect x="305.70" y="122.50" width="2.80" height="7.47" fill="#d0d0f0" />
<rect x="256.20" y="129.92" width="2.80" height="7.47" fill="#f0a880" />
<rect x="258.95" y="129.92" width="2.80" height="7.47" fill="#faece0" />
<rect x="261.70" y="129.92" width="2.80" height="7.47" fill="#f8f8fa" />
<rect x="264.45" y="129.92" width="2.80" height="7.47" fill="#f09060" />
<rect x="267.20" y="129.92" width="2.80" height="7.47" fill="#fae0d0" />
<rect x="269.95" y="129.92" width="2.80" height="7.47" fill="#f8f8fa" />
<rect x="272.70" y="129.92" width="2.80" height="7.47" fill="#f8f8fa" />
<rect x="275.45" y="129.92" width="2.80" height="7.47" fill="#e87040" />
<rect x="278.20" y="129.92" width="2.80" height="7.47" fill="#c0c0e8" />
<rect x="280.95" y="129.92" width="2.80" height="7.47" fill="#f8f8fa" />
<rect x="283.70" y="129.92" width="2.80" height="7.47" fill="#f8f8fa" />
<rect x="286.45" y="129.92" width="2.80" height="7.47" fill="#f0b090" />
<rect x="289.20" y="129.92" width="2.80" height="7.47" fill="#f0a070" />
<rect x="291.95" y="129.92" width="2.80" height="7.47" fill="#f8f8fa" />
<rect x="294.70" y="129.92" width="2.80" height="7.47" fill="#f8f8fa" />
<rect x="297.45" y="129.92" width="2.80" height="7.47" fill="#f8f8fa" />
<rect x="300.20" y="129.92" width="2.80" height="7.47" fill="#fae0d0" />
<rect x="302.95" y="129.92" width="2.80" height="7.47" fill="#9098d8" />
<rect x="305.70" y="129.92" width="2.80" height="7.47" fill="#d0d0f0" />
<rect x="256.20" y="137.34" width="2.80" height="7.47" fill="#e87848" />
<rect x="258.95" y="137.34" width="2.80" height="7.47" fill="#fae0d0" />
<rect x="261.70" y="137.34" width="2.80" height="7.47" fill="#f8f8fa" />
<rect x="264.45" y="137.34" width="2.80" height="7.47" fill="#e0e0f4" />
<rect x="267.20" y="137.34" width="2.80" height="7.47" fill="#f8f8fa" />
<rect x="269.95" y="137.34" width="2.80" height="7.47" fill="#c8c8ec" />
<rect x="272.70" y="137.34" width="2.80" height="7.47" fill="#f0a070" />
<rect x="275.45" y="137.34" width="2.80" height="7.47" fill="#e86830" />
<rect x="278.20" y="137.34" width="2.80" height="7.47" fill="#b0b0e0" />
<rect x="280.95" y="137.34" width="2.80" height="7.47" fill="#fae0d0" />
<rect x="283.70" y="137.34" width="2.80" height="7.47" fill="#f8f8fa" />
<rect x="286.45" y="137.34" width="2.80" height="7.47" fill="#f8f8fa" />
<rect x="289.20" y="137.34" width="2.80" height="7.47" fill="#a8b0e0" />
<rect x="291.95" y="137.34" width="2.80" height="7.47" fill="#e0e0f4" />
<rect x="294.70" y="137.34" width="2.80" height="7.47" fill="#f8f8fa" />
<rect x="297.45" y="137.34" width="2.80" height="7.47" fill="#fae0d0" />
<rect x="300.20" y="137.34" width="2.80" height="7.47" fill="#f8f8fa" />
<rect x="302.95" y="137.34" width="2.80" height="7.47" fill="#f8f8fa" />
<rect x="305.70" y="137.34" width="2.80" height="7.47" fill="#fae0d0" />
<rect x="256.20" y="144.76" width="2.80" height="7.47" fill="#f8f8fa" />
<rect x="258.95" y="144.76" width="2.80" height="7.47" fill="#e86830" />
<rect x="261.70" y="144.76" width="2.80" height="7.47" fill="#f08050" />
<rect x="264.45" y="144.76" width="2.80" height="7.47" fill="#f8f8fa" />
<rect x="267.20" y="144.76" width="2.80" height="7.47" fill="#fae0d0" />
<rect x="269.95" y="144.76" width="2.80" height="7.47" fill="#c0c0e8" />
<rect x="272.70" y="144.76" width="2.80" height="7.47" fill="#f8f8fa" />
<rect x="275.45" y="144.76" width="2.80" height="7.47" fill="#c0c0e8" />
<rect x="278.20" y="144.76" width="2.80" height="7.47" fill="#f5b48c" />
<rect x="280.95" y="144.76" width="2.80" height="7.47" fill="#b0b0e0" />
<rect x="283.70" y="144.76" width="2.80" height="7.47" fill="#e87040" />
<rect x="286.45" y="144.76" width="2.80" height="7.47" fill="#f8f8fa" />
<rect x="289.20" y="144.76" width="2.80" height="7.47" fill="#e87040" />
<rect x="291.95" y="144.76" width="2.80" height="7.47" fill="#f8f8fa" />
<rect x="294.70" y="144.76" width="2.80" height="7.47" fill="#b8c0e8" />
<rect x="297.45" y="144.76" width="2.80" height="7.47" fill="#c8d0f0" />
<rect x="300.20" y="144.76" width="2.80" height="7.47" fill="#f8f8fa" />
<rect x="302.95" y="144.76" width="2.80" height="7.47" fill="#f8f8fa" />
<rect x="305.70" y="144.76" width="2.80" height="7.47" fill="#e0e0f4" />
<rect x="256.20" y="152.18" width="2.80" height="7.47" fill="#e88050" />
<rect x="258.95" y="152.18" width="2.80" height="7.47" fill="#f8f8fa" />
<rect x="261.70" y="152.18" width="2.80" height="7.47" fill="#f8c0a0" />
<rect x="264.45" y="152.18" width="2.80" height="7.47" fill="#f0a070" />
<rect x="267.20" y="152.18" width="2.80" height="7.47" fill="#f8f8fa" />
<rect x="269.95" y="152.18" width="2.80" height="7.47" fill="#fae0d0" />
<rect x="272.70" y="152.18" width="2.80" height="7.47" fill="#f0b090" />
<rect x="275.45" y="152.18" width="2.80" height="7.47" fill="#f8f8fa" />
<rect x="278.20" y="152.18" width="2.80" height="7.47" fill="#d0d0f0" />
<rect x="280.95" y="152.18" width="2.80" height="7.47" fill="#c0c0e8" />
<rect x="283.70" y="152.18" width="2.80" height="7.47" fill="#9090d0" />
<rect x="286.45" y="152.18" width="2.80" height="7.47" fill="#f09060" />
<rect x="289.20" y="152.18" width="2.80" height="7.47" fill="#f8f8fa" />
<rect x="291.95" y="152.18" width="2.80" height="7.47" fill="#f8f8fa" />
<rect x="294.70" y="152.18" width="2.80" height="7.47" fill="#f8b890" />
<rect x="297.45" y="152.18" width="2.80" height="7.47" fill="#f8c8a8" />
<rect x="300.20" y="152.18" width="2.80" height="7.47" fill="#f8f8fa" />
<rect x="302.95" y="152.18" width="2.80" height="7.47" fill="#d0d0f0" />
<rect x="305.70" y="152.18" width="2.80" height="7.47" fill="#a8a8d8" />
<text x="310.20" y="121.90" font-size="4.950" fill="#222" stroke="#222" stroke-width="0.15" transform="rotate(0.25 310.20 121.90)" >Group</text>
<text x="310.20" y="128.80" font-size="5.099" fill="#222" stroke="#222" stroke-width="0.15" transform="rotate(0.25 310.20 128.80)" >Regulatory_T_cell</text>
<text x="310.20" y="136.20" font-size="5.020" fill="#222" stroke="#222" stroke-width="0.15" transform="rotate(0.25 310.20 136.20)" >Type_2_T_helper_cell</text>
<text x="310.20" y="143.30" font-size="5.112" fill="#222" stroke="#222" stroke-width="0.15" transform="rotate(0.25 310.20 143.30)" >Neutrophil</text>
<text x="310.20" y="150.90" font-size="4.771" fill="#222" stroke="#222" stroke-width="0.15" transform="rotate(0.25 310.20 150.90)" >CD56dim_natural_killer_cell</text>
<text x="310.20" y="158.70" font-size="5.094" fill="#222" stroke="#222" stroke-width="0.15" transform="rotate(0.25 310.20 158.70)" >MDSC</text>
<text x="375.20" y="120.40" font-size="2.600" fill="#222" transform="rotate(0.25 375.20 120.40)" font-weight="bold">Group</text>
<rect x="375.20" y="122.20" width="3.40" height="1.80" fill="#1a2888" />
<rect x="375.20" y="124.00" width="3.40" height="2.00" fill="#c8102e" />
<text x="379.30" y="124.00" font-size="2.400" fill="#444" stroke="#444" stroke-width="0.15" transform="rotate(0.25 379.30 124.00)" >STAS_negative</text>
<text x="379.30" y="126.40" font-size="2.400" fill="#444" stroke="#444" stroke-width="0.15" transform="rotate(0.25 379.30 126.40)" >STAS_positive</text>
<text x="375.20" y="131.80" font-size="2.600" fill="#222" transform="rotate(0.25 375.20 131.80)" font-weight="bold">Scores</text>
<defs><linearGradient id="gd" x1="0" y1="0" x2="0" y2="1"><stop offset="0" stop-color="#e8703c"/><stop offset="0.5" stop-color="#f8f8fa"/><stop offset="1" stop-color="#a8acdc"/></linearGradient></defs>
<rect x="375.20" y="132.90" width="2.80" height="15.10" fill="url(#gd)" />
<text x="379.30" y="134.40" font-size="2.400" fill="#444" stroke="#444" stroke-width="0.15" transform="rotate(0.25 379.30 134.40)" >2</text>
<text x="379.30" y="137.90" font-size="2.400" fill="#444" stroke="#444" stroke-width="0.15" transform="rotate(0.25 379.30 137.90)" >1</text>
<text x="379.30" y="141.40" font-size="2.400" fill="#444" stroke="#444" stroke-width="0.15" transform="rotate(0.25 379.30 141.40)" >0</text>
<text x="379.30" y="144.90" font-size="2.400" fill="#444" stroke="#444" stroke-width="0.15" transform="rotate(0.25 379.30 144.90)" >-1</text>
<text x="379.30" y="148.40" font-size="2.400" fill="#444" stroke="#444" stroke-width="0.15" transform="rotate(0.25 379.30 148.40)" >-2</text>
<text transform="translate(0.6,240.7) scale(1,1.12)" x="0" y="0" font-size="9.5" font-weight="bold" fill="#000" stroke="#000" stroke-width="0.25">E</text>
<rect x="10.9" y="240.9" width="148.6" height="53.9" fill="none" stroke="#d4d4d4" stroke-width="0.5"/>
<rect x="8.20" y="253.70" width="1.60" height="1.20" fill="#c0c0c0" />
<rect x="8.20" y="266.40" width="1.60" height="1.20" fill="#c0c0c0" />
<rect x="8.20" y="280.90" width="1.60" height="1.20" fill="#c0c0c0" />
<text transform="translate(3.20,265.20) rotate(-89.8)" font-size="3.900" fill="#333" stroke="#333" stroke-width="0.15" text-anchor="middle" dominant-baseline="central">Score</text>
<line x1="14.60" y1="263.22" x2="14.60" y2="267.00" stroke="#a8a0a0" stroke-width="0.4" />
<line x1="14.60" y1="275.60" x2="14.60" y2="279.38" stroke="#a8a0a0" stroke-width="0.4" />
<line x1="13.70" y1="263.22" x2="15.50" y2="263.22" stroke="#a8a0a0" stroke-width="0.4" />
<line x1="13.70" y1="279.38" x2="15.50" y2="279.38" stroke="#a8a0a0" stroke-width="0.4" />
<rect x="12.80" y="267.00" width="3.60" height="8.60" fill="#bc1c2a" stroke="#7a1018" stroke-width="0.35"/>
<line x1="12.80" y1="271.30" x2="16.40" y2="271.30" stroke="#000000aa" stroke-width="0.35" />
<line x1="18.30" y1="264.70" x2="18.30" y2="268.00" stroke="#a0a4a8" stroke-width="0.4" />
<line x1="18.30" y1="275.00" x2="18.30" y2="278.30" stroke="#a0a4a8" stroke-width="0.4" />
<line x1="17.35" y1="264.70" x2="19.25" y2="264.70" stroke="#a0a4a8" stroke-width="0.4" />
<line x1="17.35" y1="278.30" x2="19.25" y2="278.30" stroke="#a0a4a8" stroke-width="0.4" />
<rect x="16.40" y="268.00" width="3.80" height="7.00" fill="#1c4c78" stroke="#0e2c52" stroke-width="0.35"/>
<line x1="16.40" y1="271.50" x2="20.20" y2="271.50" stroke="#000000aa" stroke-width="0.35" />
<rect x="15.40" y="241.90" width="0.84" height="1.00" fill="#b0b0b0" />
<rect x="16.56" y="241.90" width="0.84" height="1.00" fill="#b0b0b0" />
<text transform="translate(16.80,297.20) rotate(-89.8)" font-size="4.200" fill="#2a2a2a" stroke="#2a2a2a" stroke-width="0.15" text-anchor="end" dominant-baseline="central">B-cells</text>
<line x1="25.10" y1="242.38" x2="25.10" y2="244.60" stroke="#a8a0a0" stroke-width="0.4" />
<line x1="25.10" y1="248.00" x2="25.10" y2="250.22" stroke="#a8a0a0" stroke-width="0.4" />
<line x1="24.20" y1="242.38" x2="26.00" y2="242.38" stroke="#a8a0a0" stroke-width="0.4" />
<line x1="24.20" y1="250.22" x2="26.00" y2="250.22" stroke="#a8a0a0" stroke-width="0.4" />
<rect x="23.30" y="244.60" width="3.60" height="3.40" fill="#bc1c2a" stroke="#7a1018" stroke-width="0.35"/>
<line x1="23.30" y1="246.30" x2="26.90" y2="246.30" stroke="#000000aa" stroke-width="0.35" />
<line x1="28.80" y1="243.24" x2="28.80" y2="245.40" stroke="#a0a4a8" stroke-width="0.4" />
<line x1="28.80" y1="248.60" x2="28.80" y2="250.76" stroke="#a0a4a8" stroke-width="0.4" />
<line x1="27.85" y1="243.24" x2="29.75" y2="243.24" stroke="#a0a4a8" stroke-width="0.4" />
<line x1="27.85" y1="250.76" x2="29.75" y2="250.76" stroke="#a0a4a8" stroke-width="0.4" />
<rect x="26.90" y="245.40" width="3.80" height="3.20" fill="#1c4c78" stroke="#0e2c52" stroke-width="0.35"/>
<line x1="26.90" y1="247.00" x2="30.70" y2="247.00" stroke="#000000aa" stroke-width="0.35" />
<rect x="25.90" y="241.90" width="0.84" height="1.00" fill="#b0b0b0" />
<rect x="27.06" y="241.90" width="0.84" height="1.00" fill="#b0b0b0" />
<text transform="translate(27.30,297.20) rotate(-89.8)" font-size="4.200" fill="#2a2a2a" stroke="#2a2a2a" stroke-width="0.15" text-anchor="end" dominant-baseline="central">CD45</text>
<line x1="35.60" y1="257.42" x2="35.60" y2="260.00" stroke="#a8a0a0" stroke-width="0.4" />
<line x1="35.60" y1="264.60" x2="35.60" y2="267.18" stroke="#a8a0a0" stroke-width="0.4" />
<line x1="34.70" y1="257.42" x2="36.50" y2="257.42" stroke="#a8a0a0" stroke-width="0.4" />
<line x1="34.70" y1="267.18" x2="36.50" y2="267.18" stroke="#a8a0a0" stroke-width="0.4" />
<rect x="33.80" y="260.00" width="3.60" height="4.60" fill="#bc1c2a" stroke="#7a1018" stroke-width="0.35"/>
<line x1="33.80" y1="262.30" x2="37.40" y2="262.30" stroke="#000000aa" stroke-width="0.35" />
<line x1="39.30" y1="257.18" x2="39.30" y2="260.00" stroke="#a0a4a8" stroke-width="0.4" />
<line x1="39.30" y1="265.40" x2="39.30" y2="268.22" stroke="#a0a4a8" stroke-width="0.4" />
<line x1="38.35" y1="257.18" x2="40.25" y2="257.18" stroke="#a0a4a8" stroke-width="0.4" />
<line x1="38.35" y1="268.22" x2="40.25" y2="268.22" stroke="#a0a4a8" stroke-width="0.4" />
<rect x="37.40" y="260.00" width="3.80" height="5.40" fill="#1c4c78" stroke="#0e2c52" stroke-width="0.35"/>
<line x1="37.40" y1="262.70" x2="41.20" y2="262.70" stroke="#000000aa" stroke-width="0.35" />
<rect x="36.40" y="241.90" width="0.84" height="1.00" fill="#b0b0b0" />
<rect x="37.56" y="241.90" width="0.84" height="1.00" fill="#b0b0b0" />
<text transform="translate(37.80,297.20) rotate(-89.8)" font-size="4.200" fill="#2a2a2a" stroke="#2a2a2a" stroke-width="0.15" text-anchor="end" dominant-baseline="central">CD8 T cells</text>
<line x1="46.10" y1="255.78" x2="46.10" y2="258.00" stroke="#a8a0a0" stroke-width="0.4" />
<line x1="46.10" y1="261.40" x2="46.10" y2="263.62" stroke="#a8a0a0" stroke-width="0.4" />
<line x1="45.20" y1="255.78" x2="47.00" y2="255.78" stroke="#a8a0a0" stroke-width="0.4" />
<line x1="45.20" y1="263.62" x2="47.00" y2="263.62" stroke="#a8a0a0" stroke-width="0.4" />
<rect x="44.30" y="258.00" width="3.60" height="3.40" fill="#bc1c2a" stroke="#7a1018" stroke-width="0.35"/>
<line x1="44.30" y1="259.70" x2="47.90" y2="259.70" stroke="#000000aa" stroke-width="0.35" />
<line x1="49.80" y1="254.00" x2="49.80" y2="257.00" stroke="#a0a4a8" stroke-width="0.4" />
<line x1="49.80" y1="263.00" x2="49.80" y2="266.00" stroke="#a0a4a8" stroke-width="0.4" />
<line x1="48.85" y1="254.00" x2="50.75" y2="254.00" stroke="#a0a4a8" stroke-width="0.4" />
<line x1="48.85" y1="266.00" x2="50.75" y2="266.00" stroke="#a0a4a8" stroke-width="0.4" />
<rect x="47.90" y="257.00" width="3.80" height="6.00" fill="#1c4c78" stroke="#0e2c52" stroke-width="0.35"/>
<line x1="47.90" y1="260.00" x2="51.70" y2="260.00" stroke="#000000aa" stroke-width="0.35" />
<rect x="46.90" y="241.90" width="0.84" height="1.00" fill="#b0b0b0" />
<rect x="48.06" y="241.90" width="0.84" height="1.00" fill="#b0b0b0" />
<text transform="translate(48.30,297.20) rotate(-89.8)" font-size="4.200" fill="#2a2a2a" stroke="#2a2a2a" stroke-width="0.15" text-anchor="end" dominant-baseline="central">Cytotoxic cells</text>
<line x1="56.60" y1="255.42" x2="56.60" y2="258.00" stroke="#a8a0a0" stroke-width="0.4" />
<line x1="56.60" y1="262.60" x2="56.60" y2="265.18" stroke="#a8a0a0" stroke-width="0.4" />
<line x1="55.70" y1="255.42" x2="57.50" y2="255.42" stroke="#a8a0a0" stroke-width="0.4" />
<line x1="55.70" y1="265.18" x2="57.50" y2="265.18" stroke="#a8a0a0" stroke-width="0.4" />
<rect x="54.80" y="258.00" width="3.60" height="4.60" fill="#bc1c2a" stroke="#7a1018" stroke-width="0.35"/>
<line x1="54.80" y1="260.30" x2="58.40" y2="260.30" stroke="#000000aa" stroke-width="0.35" />
<line x1="60.30" y1="255.60" x2="60.30" y2="258.00" stroke="#a0a4a8" stroke-width="0.4" />
<line x1="60.30" y1="262.00" x2="60.30" y2="264.40" stroke="#a0a4a8" stroke-width="0.4" />
<line x1="59.35" y1="255.60" x2="61.25" y2="255.60" stroke="#a0a4a8" stroke-width="0.4" />
<line x1="59.35" y1="264.40" x2="61.25" y2="264.40" stroke="#a0a4a8" stroke-width="0.4" />
<rect x="58.40" y="258.00" width="3.80" height="4.00" fill="#1c4c78" stroke="#0e2c52" stroke-width="0.35"/>
<line x1="58.40" y1="260.00" x2="62.20" y2="260.00" stroke="#000000aa" stroke-width="0.35" />
<rect x="57.40" y="241.90" width="0.84" height="1.00" fill="#b0b0b0" />
<rect x="58.56" y="241.90" width="0.84" height="1.00" fill="#b0b0b0" />
<text transform="translate(58.80,297.20) rotate(-89.8)" font-size="4.200" fill="#2a2a2a" stroke="#2a2a2a" stroke-width="0.15" text-anchor="end" dominant-baseline="central">DC</text>
<line x1="67.10" y1="260.80" x2="67.10" y2="262.60" stroke="#a8a0a0" stroke-width="0.4" />
<line x1="67.10" y1="264.60" x2="67.10" y2="266.40" stroke="#a8a0a0" stroke-width="0.4" />
<line x1="66.20" y1="260.80" x2="68.00" y2="260.80" stroke="#a8a0a0" stroke-width="0.4" />
<line x1="66.20" y1="266.40" x2="68.00" y2="266.40" stroke="#a8a0a0" stroke-width="0.4" />
<rect x="65.30" y="262.60" width="3.60" height="2.00" fill="#bc1c2a" stroke="#7a1018" stroke-width="0.35"/>
<line x1="65.30" y1="263.60" x2="68.90" y2="263.60" stroke="#000000aa" stroke-width="0.35" />
<line x1="70.80" y1="258.20" x2="70.80" y2="260.60" stroke="#a0a4a8" stroke-width="0.4" />
<line x1="70.80" y1="264.60" x2="70.80" y2="267.00" stroke="#a0a4a8" stroke-width="0.4" />
<line x1="69.85" y1="258.20" x2="71.75" y2="258.20" stroke="#a0a4a8" stroke-width="0.4" />
<line x1="69.85" y1="267.00" x2="71.75" y2="267.00" stroke="#a0a4a8" stroke-width="0.4" />
<rect x="68.90" y="260.60" width="3.80" height="4.00" fill="#1c4c78" stroke="#0e2c52" stroke-width="0.35"/>
<line x1="68.90" y1="262.60" x2="72.70" y2="262.60" stroke="#000000aa" stroke-width="0.35" />
<rect x="67.90" y="241.90" width="0.84" height="1.00" fill="#b0b0b0" />
<rect x="69.06" y="241.90" width="0.84" height="1.00" fill="#b0b0b0" />
<text transform="translate(69.30,297.20) rotate(-89.8)" font-size="4.200" fill="#2a2a2a" stroke="#2a2a2a" stroke-width="0.15" text-anchor="end" dominant-baseline="central">Exhausted CD8</text>
<line x1="77.60" y1="253.90" x2="77.60" y2="256.00" stroke="#a8a0a0" stroke-width="0.4" />
<line x1="77.60" y1="259.00" x2="77.60" y2="261.10" stroke="#a8a0a0" stroke-width="0.4" />
<line x1="76.70" y1="253.90" x2="78.50" y2="253.90" stroke="#a8a0a0" stroke-width="0.4" />
<line x1="76.70" y1="261.10" x2="78.50" y2="261.10" stroke="#a8a0a0" stroke-width="0.4" />
<rect x="75.80" y="256.00" width="3.60" height="3.00" fill="#bc1c2a" stroke="#7a1018" stroke-width="0.35"/>
<line x1="75.80" y1="257.50" x2="79.40" y2="257.50" stroke="#000000aa" stroke-width="0.35" />
<line x1="81.30" y1="250.90" x2="81.30" y2="253.00" stroke="#a0a4a8" stroke-width="0.4" />
<line x1="81.30" y1="256.00" x2="81.30" y2="258.10" stroke="#a0a4a8" stroke-width="0.4" />
<line x1="80.35" y1="250.90" x2="82.25" y2="250.90" stroke="#a0a4a8" stroke-width="0.4" />
<line x1="80.35" y1="258.10" x2="82.25" y2="258.10" stroke="#a0a4a8" stroke-width="0.4" />
<rect x="79.40" y="253.00" width="3.80" height="3.00" fill="#1c4c78" stroke="#0e2c52" stroke-width="0.35"/>
<line x1="79.40" y1="254.50" x2="83.20" y2="254.50" stroke="#000000aa" stroke-width="0.35" />
<rect x="78.40" y="241.90" width="0.84" height="1.00" fill="#b0b0b0" />
<rect x="79.56" y="241.90" width="0.84" height="1.00" fill="#b0b0b0" />
<text transform="translate(79.80,297.20) rotate(-89.8)" font-size="4.200" fill="#2a2a2a" stroke="#2a2a2a" stroke-width="0.15" text-anchor="end" dominant-baseline="central">Macrophages</text>
<line x1="88.10" y1="246.48" x2="88.10" y2="249.00" stroke="#a8a0a0" stroke-width="0.4" />
<line x1="88.10" y1="253.40" x2="88.10" y2="255.92" stroke="#a8a0a0" stroke-width="0.4" />
<line x1="87.20" y1="246.48" x2="89.00" y2="246.48" stroke="#a8a0a0" stroke-width="0.4" />
<line x1="87.20" y1="255.92" x2="89.00" y2="255.92" stroke="#a8a0a0" stroke-width="0.4" />
<rect x="86.30" y="249.00" width="3.60" height="4.40" fill="#bc1c2a" stroke="#7a1018" stroke-width="0.35"/>
<line x1="86.30" y1="251.20" x2="89.90" y2="251.20" stroke="#000000aa" stroke-width="0.35" />
<line x1="91.80" y1="247.60" x2="91.80" y2="249.40" stroke="#a0a4a8" stroke-width="0.4" />
<line x1="91.80" y1="251.40" x2="91.80" y2="253.20" stroke="#a0a4a8" stroke-width="0.4" />
<line x1="90.85" y1="247.60" x2="92.75" y2="247.60" stroke="#a0a4a8" stroke-width="0.4" />
<line x1="90.85" y1="253.20" x2="92.75" y2="253.20" stroke="#a0a4a8" stroke-width="0.4" />
<rect x="89.90" y="249.40" width="3.80" height="2.00" fill="#1c4c78" stroke="#0e2c52" stroke-width="0.35"/>
<line x1="89.90" y1="250.40" x2="93.70" y2="250.40" stroke="#000000aa" stroke-width="0.35" />
<rect x="88.90" y="241.90" width="0.84" height="1.00" fill="#b0b0b0" />
<rect x="90.06" y="241.90" width="0.84" height="1.00" fill="#b0b0b0" />
<text transform="translate(90.30,297.20) rotate(-89.8)" font-size="4.200" fill="#2a2a2a" stroke="#2a2a2a" stroke-width="0.15" text-anchor="end" dominant-baseline="central">Mastcells</text>
<line x1="98.60" y1="262.60" x2="98.60" y2="265.00" stroke="#a8a0a0" stroke-width="0.4" />
<line x1="98.60" y1="269.00" x2="98.60" y2="271.40" stroke="#a8a0a0" stroke-width="0.4" />
<line x1="97.70" y1="262.60" x2="99.50" y2="262.60" stroke="#a8a0a0" stroke-width="0.4" />
<line x1="97.70" y1="271.40" x2="99.50" y2="271.40" stroke="#a8a0a0" stroke-width="0.4" />
<rect x="96.80" y="265.00" width="3.60" height="4.00" fill="#bc1c2a" stroke="#7a1018" stroke-width="0.35"/>
<line x1="96.80" y1="267.00" x2="100.40" y2="267.00" stroke="#000000aa" stroke-width="0.35" />
<line x1="102.30" y1="263.24" x2="102.30" y2="265.40" stroke="#a0a4a8" stroke-width="0.4" />
<line x1="102.30" y1="268.60" x2="102.30" y2="270.76" stroke="#a0a4a8" stroke-width="0.4" />
<line x1="101.35" y1="263.24" x2="103.25" y2="263.24" stroke="#a0a4a8" stroke-width="0.4" />
<line x1="101.35" y1="270.76" x2="103.25" y2="270.76" stroke="#a0a4a8" stroke-width="0.4" />
<rect x="100.40" y="265.40" width="3.80" height="3.20" fill="#1c4c78" stroke="#0e2c52" stroke-width="0.35"/>
<line x1="100.40" y1="267.00" x2="104.20" y2="267.00" stroke="#000000aa" stroke-width="0.35" />
<rect x="99.40" y="241.90" width="0.84" height="1.00" fill="#b0b0b0" />
<rect x="100.56" y="241.90" width="0.84" height="1.00" fill="#b0b0b0" />
<text transform="translate(100.80,297.20) rotate(-89.8)" font-size="4.200" fill="#2a2a2a" stroke="#2a2a2a" stroke-width="0.15" text-anchor="end" dominant-baseline="central">Neutrophils</text>
<line x1="109.10" y1="263.08" x2="109.10" y2="265.00" stroke="#a8a0a0" stroke-width="0.4" />
<line x1="109.10" y1="267.40" x2="109.10" y2="269.32" stroke="#a8a0a0" stroke-width="0.4" />
<line x1="108.20" y1="263.08" x2="110.00" y2="263.08" stroke="#a8a0a0" stroke-width="0.4" />
<line x1="108.20" y1="269.32" x2="110.00" y2="269.32" stroke="#a8a0a0" stroke-width="0.4" />
<rect x="107.30" y="265.00" width="3.60" height="2.40" fill="#bc1c2a" stroke="#7a1018" stroke-width="0.35"/>
<line x1="107.30" y1="266.20" x2="110.90" y2="266.20" stroke="#000000aa" stroke-width="0.35" />
<line x1="112.80" y1="264.02" x2="112.80" y2="266.00" stroke="#a0a4a8" stroke-width="0.4" />
<line x1="112.80" y1="268.60" x2="112.80" y2="270.58" stroke="#a0a4a8" stroke-width="0.4" />
<line x1="111.85" y1="264.02" x2="113.75" y2="264.02" stroke="#a0a4a8" stroke-width="0.4" />
<line x1="111.85" y1="270.58" x2="113.75" y2="270.58" stroke="#a0a4a8" stroke-width="0.4" />
<rect x="110.90" y="266.00" width="3.80" height="2.60" fill="#1c4c78" stroke="#0e2c52" stroke-width="0.35"/>
<line x1="110.90" y1="267.30" x2="114.70" y2="267.30" stroke="#000000aa" stroke-width="0.35" />
<rect x="109.90" y="241.90" width="0.84" height="1.00" fill="#b0b0b0" />
<rect x="111.06" y="241.90" width="0.84" height="1.00" fill="#b0b0b0" />
<text transform="translate(111.30,297.20) rotate(-89.8)" font-size="4.200" fill="#2a2a2a" stroke="#2a2a2a" stroke-width="0.15" text-anchor="end" dominant-baseline="central">NK CD56dim cells</text>
<line x1="119.60" y1="265.00" x2="119.60" y2="268.00" stroke="#a8a0a0" stroke-width="0.4" />
<line x1="119.60" y1="274.00" x2="119.60" y2="277.00" stroke="#a8a0a0" stroke-width="0.4" />
<line x1="118.70" y1="265.00" x2="120.50" y2="265.00" stroke="#a8a0a0" stroke-width="0.4" />
<line x1="118.70" y1="277.00" x2="120.50" y2="277.00" stroke="#a8a0a0" stroke-width="0.4" />
<rect x="117.80" y="268.00" width="3.60" height="6.00" fill="#bc1c2a" stroke="#7a1018" stroke-width="0.35"/>
<line x1="117.80" y1="271.00" x2="121.40" y2="271.00" stroke="#000000aa" stroke-width="0.35" />
<line x1="123.30" y1="265.12" x2="123.30" y2="267.40" stroke="#a0a4a8" stroke-width="0.4" />
<line x1="123.30" y1="271.00" x2="123.30" y2="273.28" stroke="#a0a4a8" stroke-width="0.4" />
<line x1="122.35" y1="265.12" x2="124.25" y2="265.12" stroke="#a0a4a8" stroke-width="0.4" />
<line x1="122.35" y1="273.28" x2="124.25" y2="273.28" stroke="#a0a4a8" stroke-width="0.4" />
<rect x="121.40" y="267.40" width="3.80" height="3.60" fill="#1c4c78" stroke="#0e2c52" stroke-width="0.35"/>
<line x1="121.40" y1="269.20" x2="125.20" y2="269.20" stroke="#000000aa" stroke-width="0.35" />
<rect x="120.40" y="241.90" width="0.84" height="1.00" fill="#b0b0b0" />
<rect x="121.56" y="241.90" width="0.84" height="1.00" fill="#b0b0b0" />
<text transform="translate(121.80,297.20) rotate(-89.8)" font-size="4.200" fill="#2a2a2a" stroke="#2a2a2a" stroke-width="0.15" text-anchor="end" dominant-baseline="central">NK cells</text>
<line x1="130.10" y1="255.30" x2="130.10" y2="258.00" stroke="#a8a0a0" stroke-width="0.4" />
<line x1="130.10" y1="263.00" x2="130.10" y2="265.70" stroke="#a8a0a0" stroke-width="0.4" />
<line x1="129.20" y1="255.30" x2="131.00" y2="255.30" stroke="#a8a0a0" stroke-width="0.4" />
<line x1="129.20" y1="265.70" x2="131.00" y2="265.70" stroke="#a8a0a0" stroke-width="0.4" />
<rect x="128.30" y="258.00" width="3.60" height="5.00" fill="#bc1c2a" stroke="#7a1018" stroke-width="0.35"/>
<line x1="128.30" y1="260.50" x2="131.90" y2="260.50" stroke="#000000aa" stroke-width="0.35" />
<line x1="133.80" y1="253.48" x2="133.80" y2="256.60" stroke="#a0a4a8" stroke-width="0.4" />
<line x1="133.80" y1="263.00" x2="133.80" y2="266.12" stroke="#a0a4a8" stroke-width="0.4" />
<line x1="132.85" y1="253.48" x2="134.75" y2="253.48" stroke="#a0a4a8" stroke-width="0.4" />
<line x1="132.85" y1="266.12" x2="134.75" y2="266.12" stroke="#a0a4a8" stroke-width="0.4" />
<rect x="131.90" y="256.60" width="3.80" height="6.40" fill="#1c4c78" stroke="#0e2c52" stroke-width="0.35"/>
<line x1="131.90" y1="259.80" x2="135.70" y2="259.80" stroke="#000000aa" stroke-width="0.35" />
<rect x="130.90" y="241.90" width="0.84" height="1.00" fill="#b0b0b0" />
<rect x="132.06" y="241.90" width="0.84" height="1.00" fill="#b0b0b0" />
<text transform="translate(132.30,297.20) rotate(-89.8)" font-size="4.200" fill="#2a2a2a" stroke="#2a2a2a" stroke-width="0.15" text-anchor="end" dominant-baseline="central">T-cells</text>
<line x1="140.60" y1="260.30" x2="140.60" y2="263.00" stroke="#a8a0a0" stroke-width="0.4" />
<line x1="140.60" y1="268.00" x2="140.60" y2="270.70" stroke="#a8a0a0" stroke-width="0.4" />
<line x1="139.70" y1="260.30" x2="141.50" y2="260.30" stroke="#a8a0a0" stroke-width="0.4" />
<line x1="139.70" y1="270.70" x2="141.50" y2="270.70" stroke="#a8a0a0" stroke-width="0.4" />
<rect x="138.80" y="263.00" width="3.60" height="5.00" fill="#bc1c2a" stroke="#7a1018" stroke-width="0.35"/>
<line x1="138.80" y1="265.50" x2="142.40" y2="265.50" stroke="#000000aa" stroke-width="0.35" />
<line x1="144.30" y1="256.22" x2="144.30" y2="260.00" stroke="#a0a4a8" stroke-width="0.4" />
<line x1="144.30" y1="268.60" x2="144.30" y2="272.38" stroke="#a0a4a8" stroke-width="0.4" />
<line x1="143.35" y1="256.22" x2="145.25" y2="256.22" stroke="#a0a4a8" stroke-width="0.4" />
<line x1="143.35" y1="272.38" x2="145.25" y2="272.38" stroke="#a0a4a8" stroke-width="0.4" />
<rect x="142.40" y="260.00" width="3.80" height="8.60" fill="#1c4c78" stroke="#0e2c52" stroke-width="0.35"/>
<line x1="142.40" y1="264.30" x2="146.20" y2="264.30" stroke="#000000aa" stroke-width="0.35" />
<rect x="141.40" y="241.90" width="0.84" height="1.00" fill="#b0b0b0" />
<rect x="142.56" y="241.90" width="0.84" height="1.00" fill="#b0b0b0" />
<text transform="translate(142.80,297.20) rotate(-89.8)" font-size="4.200" fill="#2a2a2a" stroke="#2a2a2a" stroke-width="0.15" text-anchor="end" dominant-baseline="central">Th cells</text>
<line x1="151.10" y1="265.40" x2="151.10" y2="269.00" stroke="#a8a0a0" stroke-width="0.4" />
<line x1="151.10" y1="277.00" x2="151.10" y2="280.60" stroke="#a8a0a0" stroke-width="0.4" />
<line x1="150.20" y1="265.40" x2="152.00" y2="265.40" stroke="#a8a0a0" stroke-width="0.4" />
<line x1="150.20" y1="280.60" x2="152.00" y2="280.60" stroke="#a8a0a0" stroke-width="0.4" />
<rect x="149.30" y="269.00" width="3.60" height="8.00" fill="#bc1c2a" stroke="#7a1018" stroke-width="0.35"/>
<line x1="149.30" y1="273.00" x2="152.90" y2="273.00" stroke="#000000aa" stroke-width="0.35" />
<line x1="154.80" y1="267.60" x2="154.80" y2="273.00" stroke="#a0a4a8" stroke-width="0.4" />
<line x1="154.80" y1="287.00" x2="154.80" y2="292.40" stroke="#a0a4a8" stroke-width="0.4" />
<line x1="153.85" y1="267.60" x2="155.75" y2="267.60" stroke="#a0a4a8" stroke-width="0.4" />
<line x1="153.85" y1="292.40" x2="155.75" y2="292.40" stroke="#a0a4a8" stroke-width="0.4" />
<rect x="152.90" y="273.00" width="3.80" height="14.00" fill="#1c4c78" stroke="#0e2c52" stroke-width="0.35"/>
<line x1="152.90" y1="280.00" x2="156.70" y2="280.00" stroke="#000000aa" stroke-width="0.35" />
<rect x="151.90" y="241.90" width="0.84" height="1.00" fill="#b0b0b0" />
<rect x="153.06" y="241.90" width="0.84" height="1.00" fill="#b0b0b0" />
<text transform="translate(153.30,297.20) rotate(-89.8)" font-size="4.200" fill="#2a2a2a" stroke="#2a2a2a" stroke-width="0.15" text-anchor="end" dominant-baseline="central">Treg</text>
<text x="160.00" y="256.60" font-size="4.700" fill="#3a3a3a" stroke="#3a3a3a" stroke-width="0.15" transform="rotate(0.25 160.00 256.60)" >Group</text>
<rect x="160.50" y="259.20" width="6.00" height="3.60" fill="#d0141e" stroke="#6a0e18" stroke-width="0.45"/>
<rect x="160.50" y="265.00" width="6.00" height="3.80" fill="#1d4f8c" stroke="#0c2848" stroke-width="0.45"/>
<text x="170.00" y="262.30" font-size="3.547" fill="#444" stroke="#444" stroke-width="0.15" transform="rotate(0.25 170.00 262.30)" >STAS_positive</text>
<text x="170.00" y="268.30" font-size="3.491" fill="#444" stroke="#444" stroke-width="0.15" transform="rotate(0.25 170.00 268.30)" >STAS_negative</text>
<text transform="translate(234.5,184.6) scale(1,0.95)" x="0" y="0" font-size="9.5" font-weight="bold" fill="#000" stroke="#000" stroke-width="0.25">F</text>
<rect x="255.9" y="184.8" width="56.5" height="54.4" fill="none" stroke="#b8b0b0" stroke-width="0.6"/>
<line x1="253.60" y1="185.80" x2="254.80" y2="185.80" stroke="#777" stroke-width="0.4" />
<rect x="250.60" y="184.90" width="1.40" height="1.80" fill="#c0c0c0" />
<line x1="253.60" y1="197.50" x2="254.80" y2="197.50" stroke="#777" stroke-width="0.4" />
<rect x="250.60" y="196.60" width="1.40" height="1.80" fill="#c0c0c0" />
<line x1="253.60" y1="209.20" x2="254.80" y2="209.20" stroke="#777" stroke-width="0.4" />
<rect x="250.60" y="208.30" width="1.40" height="1.80" fill="#c0c0c0" />
<line x1="253.60" y1="221.20" x2="254.80" y2="221.20" stroke="#777" stroke-width="0.4" />
<rect x="250.60" y="220.30" width="1.40" height="1.80" fill="#c0c0c0" />
<line x1="253.60" y1="233.00" x2="254.80" y2="233.00" stroke="#777" stroke-width="0.4" />
<rect x="250.60" y="232.10" width="1.40" height="1.80" fill="#c0c0c0" />
<text transform="translate(248.90,207.70) rotate(-89.8)" font-size="4.700" fill="#333" stroke="#333" stroke-width="0.15" text-anchor="middle" dominant-baseline="central">Score</text>
<text x="284.60" y="195.40" font-size="5.600" fill="#333" stroke="#333" stroke-width="0.15" transform="rotate(0.25 284.60 195.40)" text-anchor="middle">p=0.0754</text>
<path d="M270.5,206 L270.5,203.8 L298.7,203.8 L298.7,206" fill="none" stroke="#777" stroke-width="0.4"/>
<line x1="271.00" y1="218.80" x2="271.00" y2="222.60" stroke="#777" stroke-width="0.4" />
<line x1="266.00" y1="222.60" x2="276.20" y2="222.60" stroke="#777" stroke-width="0.4" />
<rect x="261.80" y="210.10" width="18.50" height="8.70" fill="#ee1c24" />
<line x1="261.80" y1="211.50" x2="280.30" y2="211.50" stroke="#c01018" stroke-width="0.4" />
<line x1="298.50" y1="212.00" x2="298.50" y2="214.50" stroke="#777" stroke-width="0.4" />
<line x1="293.00" y1="212.00" x2="302.00" y2="212.00" stroke="#777" stroke-width="0.4" />
<line x1="298.50" y1="234.00" x2="298.50" y2="236.80" stroke="#777" stroke-width="0.4" />
<line x1="293.00" y1="236.80" x2="302.00" y2="236.80" stroke="#777" stroke-width="0.4" />
<rect x="289.00" y="214.50" width="19.00" height="19.50" fill="#1a4c96" />
<line x1="289.00" y1="216.50" x2="308.00" y2="216.50" stroke="#0a3070" stroke-width="0.4" />
<text x="284.80" y="245.60" font-size="4.600" fill="#333" stroke="#333" stroke-width="0.15" transform="rotate(0.25 284.80 245.60)" text-anchor="middle">Treg</text>
<rect x="316.70" y="205.90" width="9.40" height="4.00" fill="#ee1c24" />
<rect x="316.70" y="211.60" width="9.40" height="4.10" fill="#1a4c96" />
<text x="328.40" y="209.50" font-size="3.917" fill="#333" stroke="#333" stroke-width="0.15" transform="rotate(0.25 328.40 209.50)" >STAS_positive</text>
<text x="328.40" y="215.10" font-size="3.796" fill="#333" stroke="#333" stroke-width="0.15" transform="rotate(0.25 328.40 215.10)" >STAS_negative</text>
<text transform="translate(233.9,253.3) scale(1,0.93)" x="0" y="0" font-size="9.5" font-weight="bold" fill="#000" stroke="#000" stroke-width="0.25">G</text>
<rect x="256.3" y="251.1" width="72.7" height="48.8" fill="none" stroke="#b8b0b0" stroke-width="0.6"/>
<line x1="254.70" y1="254.50" x2="255.90" y2="254.50" stroke="#777" stroke-width="0.4" />
<text transform="translate(253.00,254.50) rotate(-89.8)" font-size="4.000" fill="#555" stroke="#555" stroke-width="0.15" text-anchor="middle" dominant-baseline="central">5</text>
<line x1="254.70" y1="267.50" x2="255.90" y2="267.50" stroke="#777" stroke-width="0.4" />
<text transform="translate(253.00,267.50) rotate(-89.8)" font-size="4.000" fill="#555" stroke="#555" stroke-width="0.15" text-anchor="middle" dominant-baseline="central">4</text>
<line x1="254.70" y1="281.00" x2="255.90" y2="281.00" stroke="#777" stroke-width="0.4" />
<text transform="translate(253.00,281.00) rotate(-89.8)" font-size="4.000" fill="#555" stroke="#555" stroke-width="0.15" text-anchor="middle" dominant-baseline="central">3</text>
<line x1="254.70" y1="294.50" x2="255.90" y2="294.50" stroke="#777" stroke-width="0.4" />
<text transform="translate(253.00,294.50) rotate(-89.8)" font-size="4.000" fill="#555" stroke="#555" stroke-width="0.15" text-anchor="middle" dominant-baseline="central">2</text>
<text transform="translate(249.00,277.70) rotate(-89.8)" font-size="4.800" fill="#333" stroke="#333" stroke-width="0.15" text-anchor="middle" dominant-baseline="central">Score</text>
<rect x="274.70" y="253.00" width="1.09" height="1.00" fill="#777" />
<rect x="276.21" y="253.00" width="1.09" height="1.00" fill="#777" />
<rect x="308.20" y="253.00" width="1.09" height="1.00" fill="#777" />
<rect x="309.71" y="253.00" width="1.09" height="1.00" fill="#777" />
<line x1="270.50" y1="268.60" x2="270.50" y2="275.40" stroke="#888" stroke-width="0.4" />
<line x1="265.00" y1="268.60" x2="276.00" y2="268.60" stroke="#888" stroke-width="0.4" />
<line x1="270.50" y1="280.60" x2="270.50" y2="287.80" stroke="#888" stroke-width="0.4" />
<line x1="265.00" y1="287.80" x2="276.00" y2="287.80" stroke="#888" stroke-width="0.4" />
<rect x="264.90" y="275.40" width="11.30" height="5.20" fill="#ee1c24" />
<line x1="282.60" y1="282.20" x2="282.60" y2="283.30" stroke="#888" stroke-width="0.4" />
<line x1="277.00" y1="283.30" x2="288.00" y2="283.30" stroke="#888" stroke-width="0.4" />
<rect x="276.20" y="273.20" width="12.80" height="9.00" fill="#1a4c96" />
<line x1="303.60" y1="280.80" x2="303.60" y2="285.40" stroke="#888" stroke-width="0.4" />
<line x1="298.00" y1="280.80" x2="309.00" y2="280.80" stroke="#888" stroke-width="0.4" />
<line x1="303.60" y1="293.20" x2="303.60" y2="297.00" stroke="#888" stroke-width="0.4" />
<line x1="298.00" y1="297.00" x2="309.00" y2="297.00" stroke="#888" stroke-width="0.4" />
<rect x="297.80" y="285.40" width="11.70" height="7.80" fill="#ee1c24" />
<line x1="315.60" y1="283.50" x2="315.60" y2="286.10" stroke="#888" stroke-width="0.4" />
<line x1="310.00" y1="283.50" x2="321.00" y2="283.50" stroke="#888" stroke-width="0.4" />
<line x1="315.60" y1="291.90" x2="315.60" y2="298.40" stroke="#888" stroke-width="0.4" />
<line x1="310.00" y1="298.40" x2="321.00" y2="298.40" stroke="#888" stroke-width="0.4" />
<rect x="309.50" y="286.10" width="12.30" height="5.80" fill="#1a4c96" />
<text transform="translate(276.20,301.90) rotate(-89.8)" font-size="3.894" fill="#2a2a2a" stroke="#2a2a2a" stroke-width="0.15" text-anchor="end" dominant-baseline="central">TLS_12gene</text>
<text transform="translate(309.20,301.90) rotate(-89.8)" font-size="3.868" fill="#2a2a2a" stroke="#2a2a2a" stroke-width="0.15" text-anchor="end" dominant-baseline="central">TLS_8gene</text>
<text x="334.30" y="262.00" font-size="3.526" fill="#3a3a3a" stroke="#3a3a3a" stroke-width="0.15" transform="rotate(0.25 334.30 262.00)" >Group</text>
<rect x="334.30" y="265.80" width="5.70" height="3.20" fill="#d0141e" stroke="#6a0e18" stroke-width="0.45"/>
<rect x="334.30" y="271.00" width="5.70" height="3.40" fill="#1d4f8c" stroke="#0c2848" stroke-width="0.45"/>
<text x="342.00" y="268.40" font-size="3.624" fill="#444" stroke="#444" stroke-width="0.15" transform="rotate(0.25 342.00 268.40)" >STAS_positive</text>
<text x="342.00" y="273.90" font-size="3.636" fill="#444" stroke="#444" stroke-width="0.15" transform="rotate(0.25 342.00 273.90)" >STAS_negative</text>
</svg>
</body></html>
